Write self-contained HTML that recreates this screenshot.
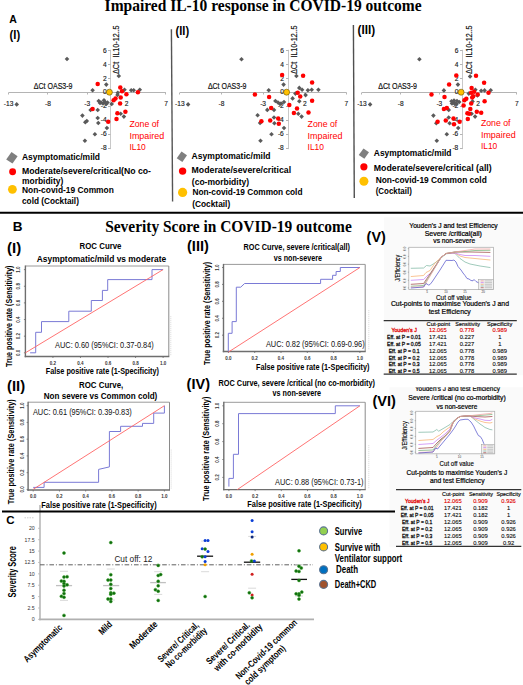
<!DOCTYPE html>
<html><head><meta charset="utf-8"><style>
html,body{margin:0;padding:0;background:#fff;overflow:hidden;}
svg{display:block;}
</style></head><body>
<svg width="523" height="685" viewBox="0 0 523 685">
<rect width="523" height="685" fill="#fff"/>
<text x="104.60" y="10.90" font-size="16" fill="#000" font-weight="bold" text-anchor="start" font-family='"Liberation Serif", serif' textLength="317.00" lengthAdjust="spacingAndGlyphs">Impaired IL-10 response in COVID-19 outcome</text>
<text x="105.20" y="232.20" font-size="16" fill="#000" font-weight="bold" text-anchor="start" font-family='"Liberation Serif", serif' textLength="246.60" lengthAdjust="spacingAndGlyphs">Severity Score in COVID-19 outcome</text>
<line x1="171.40" y1="29.20" x2="172.60" y2="201.40" stroke="#555555" stroke-width="1.4" />
<line x1="353.40" y1="25.00" x2="354.30" y2="198.00" stroke="#505050" stroke-width="1.4" />
<text x="13.00" y="19.00" font-size="10.5" fill="#000" font-weight="bold" text-anchor="middle" dominant-baseline="central" font-family='"Liberation Sans", sans-serif' >A</text>
<text x="9.60" y="35.30" font-size="12" fill="#000" font-weight="bold" text-anchor="start" dominant-baseline="central" font-family='"Liberation Sans", sans-serif' textLength="10.60" lengthAdjust="spacingAndGlyphs" >(I)</text>
<line x1="8.60" y1="92.50" x2="165.90" y2="92.50" stroke="#b4b4b4" stroke-width="1" />
<line x1="110.50" y1="49.80" x2="110.50" y2="149.10" stroke="#c8c8c8" stroke-width="1" />
<line x1="8.50" y1="92.50" x2="8.50" y2="94.50" stroke="#b4b4b4" stroke-width="1" />
<text x="8.59" y="103.00" font-size="6.6" fill="#202020" font-weight="normal" text-anchor="middle" dominant-baseline="central" font-family='"Liberation Sans", sans-serif' stroke="#202020" stroke-width="0.15">-13</text>
<line x1="47.50" y1="92.50" x2="47.50" y2="94.50" stroke="#b4b4b4" stroke-width="1" />
<text x="47.94" y="103.00" font-size="6.6" fill="#202020" font-weight="normal" text-anchor="middle" dominant-baseline="central" font-family='"Liberation Sans", sans-serif' stroke="#202020" stroke-width="0.15">-8</text>
<line x1="87.50" y1="92.50" x2="87.50" y2="94.50" stroke="#b4b4b4" stroke-width="1" />
<text x="87.29" y="103.00" font-size="6.6" fill="#202020" font-weight="normal" text-anchor="middle" dominant-baseline="central" font-family='"Liberation Sans", sans-serif' stroke="#202020" stroke-width="0.15">-3</text>
<line x1="126.50" y1="92.50" x2="126.50" y2="94.50" stroke="#b4b4b4" stroke-width="1" />
<text x="126.64" y="103.00" font-size="6.6" fill="#202020" font-weight="normal" text-anchor="middle" dominant-baseline="central" font-family='"Liberation Sans", sans-serif' stroke="#202020" stroke-width="0.15">2</text>
<line x1="165.50" y1="92.50" x2="165.50" y2="94.50" stroke="#b4b4b4" stroke-width="1" />
<text x="165.99" y="103.00" font-size="6.6" fill="#202020" font-weight="normal" text-anchor="middle" dominant-baseline="central" font-family='"Liberation Sans", sans-serif' stroke="#202020" stroke-width="0.15">7</text>
<line x1="108.00" y1="50.50" x2="110.50" y2="50.50" stroke="#b4b4b4" stroke-width="1" />
<text x="106.60" y="50.20" font-size="6.6" fill="#202020" font-weight="normal" text-anchor="end" dominant-baseline="central" font-family='"Liberation Sans", sans-serif' stroke="#202020" stroke-width="0.15">6</text>
<line x1="108.00" y1="64.50" x2="110.50" y2="64.50" stroke="#b4b4b4" stroke-width="1" />
<text x="106.60" y="64.10" font-size="6.6" fill="#202020" font-weight="normal" text-anchor="end" dominant-baseline="central" font-family='"Liberation Sans", sans-serif' stroke="#202020" stroke-width="0.15">4</text>
<line x1="108.00" y1="78.50" x2="110.50" y2="78.50" stroke="#b4b4b4" stroke-width="1" />
<text x="106.60" y="78.00" font-size="6.6" fill="#202020" font-weight="normal" text-anchor="end" dominant-baseline="central" font-family='"Liberation Sans", sans-serif' stroke="#202020" stroke-width="0.15">2</text>
<line x1="108.00" y1="92.50" x2="110.50" y2="92.50" stroke="#b4b4b4" stroke-width="1" />
<text x="106.60" y="91.90" font-size="6.6" fill="#202020" font-weight="normal" text-anchor="end" dominant-baseline="central" font-family='"Liberation Sans", sans-serif' stroke="#202020" stroke-width="0.15">0</text>
<line x1="108.00" y1="106.50" x2="110.50" y2="106.50" stroke="#b4b4b4" stroke-width="1" />
<text x="106.60" y="105.80" font-size="6.6" fill="#202020" font-weight="normal" text-anchor="end" dominant-baseline="central" font-family='"Liberation Sans", sans-serif' stroke="#202020" stroke-width="0.15">-2</text>
<line x1="108.00" y1="120.50" x2="110.50" y2="120.50" stroke="#b4b4b4" stroke-width="1" />
<text x="106.60" y="119.70" font-size="6.6" fill="#202020" font-weight="normal" text-anchor="end" dominant-baseline="central" font-family='"Liberation Sans", sans-serif' stroke="#202020" stroke-width="0.15">-4</text>
<line x1="108.00" y1="134.50" x2="110.50" y2="134.50" stroke="#b4b4b4" stroke-width="1" />
<text x="106.60" y="133.60" font-size="6.6" fill="#202020" font-weight="normal" text-anchor="end" dominant-baseline="central" font-family='"Liberation Sans", sans-serif' stroke="#202020" stroke-width="0.15">-6</text>
<line x1="108.00" y1="148.50" x2="110.50" y2="148.50" stroke="#b4b4b4" stroke-width="1" />
<text x="106.60" y="147.50" font-size="6.6" fill="#202020" font-weight="normal" text-anchor="end" dominant-baseline="central" font-family='"Liberation Sans", sans-serif' stroke="#202020" stroke-width="0.15">-8</text>
<text x="33.80" y="86.00" font-size="8.2" fill="#111" font-weight="normal" text-anchor="start" dominant-baseline="central" font-family='"Liberation Sans", sans-serif' textLength="38.70" lengthAdjust="spacingAndGlyphs" stroke="#111" stroke-width="0.18">ΔCt OAS3-9</text>
<text x="116.50" y="67.90" font-size="8.2" fill="#111" font-weight="normal" text-anchor="middle" dominant-baseline="central" font-family='"Liberation Sans", sans-serif' textLength="12.30" lengthAdjust="spacingAndGlyphs" transform="rotate(-90 116.50 67.90)" stroke="#111" stroke-width="0.15">ΔCt</text>
<text x="116.50" y="41.50" font-size="8.2" fill="#111" font-weight="normal" text-anchor="middle" dominant-baseline="central" font-family='"Liberation Sans", sans-serif' textLength="32.20" lengthAdjust="spacingAndGlyphs" transform="rotate(-90 116.50 41.50)" stroke="#111" stroke-width="0.15">IL10-12..5</text>
<path d="M67.00 56.70L69.30 59.00L67.00 61.30L64.70 59.00Z" fill="#5a5a5a"/>
<path d="M118.80 73.70L121.10 76.00L118.80 78.30L116.50 76.00Z" fill="#5a5a5a"/>
<path d="M106.30 82.30L108.60 84.60L106.30 86.90L104.00 84.60Z" fill="#5a5a5a"/>
<path d="M92.60 87.90L94.90 90.20L92.60 92.50L90.30 90.20Z" fill="#5a5a5a"/>
<path d="M117.80 90.40L120.10 92.70L117.80 95.00L115.50 92.70Z" fill="#5a5a5a"/>
<path d="M124.50 87.50L126.80 89.80L124.50 92.10L122.20 89.80Z" fill="#5a5a5a"/>
<path d="M131.20 87.90L133.50 90.20L131.20 92.50L128.90 90.20Z" fill="#5a5a5a"/>
<path d="M133.70 87.90L136.00 90.20L133.70 92.50L131.40 90.20Z" fill="#5a5a5a"/>
<path d="M139.80 87.50L142.10 89.80L139.80 92.10L137.50 89.80Z" fill="#5a5a5a"/>
<path d="M98.70 98.70L101.00 101.00L98.70 103.30L96.40 101.00Z" fill="#5a5a5a"/>
<path d="M101.00 100.20L103.30 102.50L101.00 104.80L98.70 102.50Z" fill="#5a5a5a"/>
<path d="M103.00 101.20L105.30 103.50L103.00 105.80L100.70 103.50Z" fill="#5a5a5a"/>
<path d="M105.00 99.70L107.30 102.00L105.00 104.30L102.70 102.00Z" fill="#5a5a5a"/>
<path d="M106.30 101.70L108.60 104.00L106.30 106.30L104.00 104.00Z" fill="#5a5a5a"/>
<path d="M100.00 100.70L102.30 103.00L100.00 105.30L97.70 103.00Z" fill="#5a5a5a"/>
<path d="M107.50 100.20L109.80 102.50L107.50 104.80L105.20 102.50Z" fill="#5a5a5a"/>
<path d="M104.00 98.00L106.30 100.30L104.00 102.60L101.70 100.30Z" fill="#5a5a5a"/>
<path d="M117.50 92.70L119.80 95.00L117.50 97.30L115.20 95.00Z" fill="#5a5a5a"/>
<path d="M111.70 101.70L114.00 104.00L111.70 106.30L109.40 104.00Z" fill="#5a5a5a"/>
<path d="M90.60 107.70L92.90 110.00L90.60 112.30L88.30 110.00Z" fill="#5a5a5a"/>
<path d="M97.70 107.70L100.00 110.00L97.70 112.30L95.40 110.00Z" fill="#5a5a5a"/>
<path d="M82.40 113.30L84.70 115.60L82.40 117.90L80.10 115.60Z" fill="#5a5a5a"/>
<path d="M85.30 120.00L87.60 122.30L85.30 124.60L83.00 122.30Z" fill="#5a5a5a"/>
<path d="M86.80 118.70L89.10 121.00L86.80 123.30L84.50 121.00Z" fill="#5a5a5a"/>
<path d="M97.70 115.70L100.00 118.00L97.70 120.30L95.40 118.00Z" fill="#5a5a5a"/>
<path d="M98.30 120.70L100.60 123.00L98.30 125.30L96.00 123.00Z" fill="#5a5a5a"/>
<path d="M120.70 111.40L123.00 113.70L120.70 116.00L118.40 113.70Z" fill="#5a5a5a"/>
<path d="M123.90 114.30L126.20 116.60L123.90 118.90L121.60 116.60Z" fill="#5a5a5a"/>
<path d="M106.90 125.70L109.20 128.00L106.90 130.30L104.60 128.00Z" fill="#5a5a5a"/>
<path d="M94.90 132.00L97.20 134.30L94.90 136.60L92.60 134.30Z" fill="#5a5a5a"/>
<path d="M84.90 138.50L87.20 140.80L84.90 143.10L82.60 140.80Z" fill="#5a5a5a"/>
<path d="M16.70 102.10L19.00 104.40L16.70 106.70L14.40 104.40Z" fill="#5a5a5a"/>
<circle cx="97.70" cy="84.00" r="2.25" fill="#ff0000" stroke="none" stroke-width="0.5"/>
<circle cx="120.30" cy="87.50" r="2.25" fill="#ff0000" stroke="none" stroke-width="0.5"/>
<circle cx="122.00" cy="91.30" r="2.25" fill="#ff0000" stroke="none" stroke-width="0.5"/>
<circle cx="126.40" cy="94.20" r="2.25" fill="#ff0000" stroke="none" stroke-width="0.5"/>
<circle cx="137.90" cy="92.30" r="2.25" fill="#ff0000" stroke="none" stroke-width="0.5"/>
<circle cx="115.50" cy="98.40" r="2.25" fill="#ff0000" stroke="none" stroke-width="0.5"/>
<circle cx="113.60" cy="100.30" r="2.25" fill="#ff0000" stroke="none" stroke-width="0.5"/>
<circle cx="120.70" cy="97.40" r="2.25" fill="#ff0000" stroke="none" stroke-width="0.5"/>
<circle cx="120.10" cy="103.60" r="2.25" fill="#ff0000" stroke="none" stroke-width="0.5"/>
<circle cx="92.60" cy="109.00" r="2.25" fill="#ff0000" stroke="none" stroke-width="0.5"/>
<circle cx="117.40" cy="113.30" r="2.25" fill="#ff0000" stroke="none" stroke-width="0.5"/>
<circle cx="125.40" cy="111.80" r="2.25" fill="#ff0000" stroke="none" stroke-width="0.5"/>
<circle cx="116.50" cy="119.00" r="2.25" fill="#ff0000" stroke="none" stroke-width="0.5"/>
<circle cx="108.20" cy="121.70" r="2.25" fill="#ff0000" stroke="none" stroke-width="0.5"/>
<circle cx="109.40" cy="92.20" r="3.0" fill="#ffc000" stroke="#6a5000" stroke-width="0.6"/>
<text x="129.40" y="124.00" font-size="9" fill="#ff0000" font-weight="normal" text-anchor="start" dominant-baseline="central" font-family='"Liberation Sans", sans-serif' textLength="29.60" lengthAdjust="spacingAndGlyphs" >Zone of</text>
<text x="129.40" y="135.70" font-size="9" fill="#ff0000" font-weight="normal" text-anchor="start" dominant-baseline="central" font-family='"Liberation Sans", sans-serif' textLength="34.80" lengthAdjust="spacingAndGlyphs" >Impaired</text>
<text x="129.40" y="147.40" font-size="9" fill="#ff0000" font-weight="normal" text-anchor="start" dominant-baseline="central" font-family='"Liberation Sans", sans-serif' textLength="16.40" lengthAdjust="spacingAndGlyphs" >IL10</text>
<text x="175.50" y="30.90" font-size="12" fill="#000" font-weight="bold" text-anchor="start" dominant-baseline="central" font-family='"Liberation Sans", sans-serif' textLength="13.60" lengthAdjust="spacingAndGlyphs" >(II)</text>
<line x1="180.00" y1="92.50" x2="346.60" y2="92.50" stroke="#b4b4b4" stroke-width="1" />
<line x1="288.50" y1="49.80" x2="288.50" y2="149.10" stroke="#c8c8c8" stroke-width="1" />
<line x1="179.50" y1="92.50" x2="179.50" y2="94.50" stroke="#b4b4b4" stroke-width="1" />
<text x="179.81" y="103.00" font-size="6.6" fill="#202020" font-weight="normal" text-anchor="middle" dominant-baseline="central" font-family='"Liberation Sans", sans-serif' stroke="#202020" stroke-width="0.15">-13</text>
<line x1="221.50" y1="92.50" x2="221.50" y2="94.50" stroke="#b4b4b4" stroke-width="1" />
<text x="221.46" y="103.00" font-size="6.6" fill="#202020" font-weight="normal" text-anchor="middle" dominant-baseline="central" font-family='"Liberation Sans", sans-serif' stroke="#202020" stroke-width="0.15">-8</text>
<line x1="263.50" y1="92.50" x2="263.50" y2="94.50" stroke="#b4b4b4" stroke-width="1" />
<text x="263.11" y="103.00" font-size="6.6" fill="#202020" font-weight="normal" text-anchor="middle" dominant-baseline="central" font-family='"Liberation Sans", sans-serif' stroke="#202020" stroke-width="0.15">-3</text>
<line x1="304.50" y1="92.50" x2="304.50" y2="94.50" stroke="#b4b4b4" stroke-width="1" />
<text x="304.76" y="103.00" font-size="6.6" fill="#202020" font-weight="normal" text-anchor="middle" dominant-baseline="central" font-family='"Liberation Sans", sans-serif' stroke="#202020" stroke-width="0.15">2</text>
<line x1="346.50" y1="92.50" x2="346.50" y2="94.50" stroke="#b4b4b4" stroke-width="1" />
<text x="346.41" y="103.00" font-size="6.6" fill="#202020" font-weight="normal" text-anchor="middle" dominant-baseline="central" font-family='"Liberation Sans", sans-serif' stroke="#202020" stroke-width="0.15">7</text>
<line x1="286.00" y1="50.50" x2="288.50" y2="50.50" stroke="#b4b4b4" stroke-width="1" />
<text x="283.80" y="50.20" font-size="6.6" fill="#202020" font-weight="normal" text-anchor="end" dominant-baseline="central" font-family='"Liberation Sans", sans-serif' stroke="#202020" stroke-width="0.15">6</text>
<line x1="286.00" y1="64.50" x2="288.50" y2="64.50" stroke="#b4b4b4" stroke-width="1" />
<text x="283.80" y="64.10" font-size="6.6" fill="#202020" font-weight="normal" text-anchor="end" dominant-baseline="central" font-family='"Liberation Sans", sans-serif' stroke="#202020" stroke-width="0.15">4</text>
<line x1="286.00" y1="78.50" x2="288.50" y2="78.50" stroke="#b4b4b4" stroke-width="1" />
<text x="283.80" y="78.00" font-size="6.6" fill="#202020" font-weight="normal" text-anchor="end" dominant-baseline="central" font-family='"Liberation Sans", sans-serif' stroke="#202020" stroke-width="0.15">2</text>
<line x1="286.00" y1="92.50" x2="288.50" y2="92.50" stroke="#b4b4b4" stroke-width="1" />
<text x="283.80" y="91.90" font-size="6.6" fill="#202020" font-weight="normal" text-anchor="end" dominant-baseline="central" font-family='"Liberation Sans", sans-serif' stroke="#202020" stroke-width="0.15">0</text>
<line x1="286.00" y1="106.50" x2="288.50" y2="106.50" stroke="#b4b4b4" stroke-width="1" />
<text x="283.80" y="105.80" font-size="6.6" fill="#202020" font-weight="normal" text-anchor="end" dominant-baseline="central" font-family='"Liberation Sans", sans-serif' stroke="#202020" stroke-width="0.15">-2</text>
<line x1="286.00" y1="120.50" x2="288.50" y2="120.50" stroke="#b4b4b4" stroke-width="1" />
<text x="283.80" y="119.70" font-size="6.6" fill="#202020" font-weight="normal" text-anchor="end" dominant-baseline="central" font-family='"Liberation Sans", sans-serif' stroke="#202020" stroke-width="0.15">-4</text>
<line x1="286.00" y1="134.50" x2="288.50" y2="134.50" stroke="#b4b4b4" stroke-width="1" />
<text x="283.80" y="133.60" font-size="6.6" fill="#202020" font-weight="normal" text-anchor="end" dominant-baseline="central" font-family='"Liberation Sans", sans-serif' stroke="#202020" stroke-width="0.15">-6</text>
<line x1="286.00" y1="148.50" x2="288.50" y2="148.50" stroke="#b4b4b4" stroke-width="1" />
<text x="283.80" y="147.50" font-size="6.6" fill="#202020" font-weight="normal" text-anchor="end" dominant-baseline="central" font-family='"Liberation Sans", sans-serif' stroke="#202020" stroke-width="0.15">-8</text>
<text x="207.90" y="86.00" font-size="8.2" fill="#111" font-weight="normal" text-anchor="start" dominant-baseline="central" font-family='"Liberation Sans", sans-serif' textLength="38.50" lengthAdjust="spacingAndGlyphs" stroke="#111" stroke-width="0.18">ΔCt OAS3-9</text>
<text x="294.70" y="67.90" font-size="8.2" fill="#111" font-weight="normal" text-anchor="middle" dominant-baseline="central" font-family='"Liberation Sans", sans-serif' textLength="12.30" lengthAdjust="spacingAndGlyphs" transform="rotate(-90 294.70 67.90)" stroke="#111" stroke-width="0.15">ΔCt</text>
<text x="294.70" y="41.50" font-size="8.2" fill="#111" font-weight="normal" text-anchor="middle" dominant-baseline="central" font-family='"Liberation Sans", sans-serif' textLength="32.20" lengthAdjust="spacingAndGlyphs" transform="rotate(-90 294.70 41.50)" stroke="#111" stroke-width="0.15">IL10-12..5</text>
<path d="M241.50 56.90L243.80 59.20L241.50 61.50L239.20 59.20Z" fill="#5a5a5a"/>
<path d="M296.40 73.70L298.70 76.00L296.40 78.30L294.10 76.00Z" fill="#5a5a5a"/>
<path d="M283.60 82.30L285.90 84.60L283.60 86.90L281.30 84.60Z" fill="#5a5a5a"/>
<path d="M268.70 87.90L271.00 90.20L268.70 92.50L266.40 90.20Z" fill="#5a5a5a"/>
<path d="M299.30 85.60L301.60 87.90L299.30 90.20L297.00 87.90Z" fill="#5a5a5a"/>
<path d="M302.10 87.50L304.40 89.80L302.10 92.10L299.80 89.80Z" fill="#5a5a5a"/>
<path d="M307.90 87.90L310.20 90.20L307.90 92.50L305.60 90.20Z" fill="#5a5a5a"/>
<path d="M311.70 87.50L314.00 89.80L311.70 92.10L309.40 89.80Z" fill="#5a5a5a"/>
<path d="M318.40 87.50L320.70 89.80L318.40 92.10L316.10 89.80Z" fill="#5a5a5a"/>
<path d="M295.40 91.30L297.70 93.60L295.40 95.90L293.10 93.60Z" fill="#5a5a5a"/>
<path d="M292.60 96.10L294.90 98.40L292.60 100.70L290.30 98.40Z" fill="#5a5a5a"/>
<path d="M305.60 92.80L307.90 95.10L305.60 97.40L303.30 95.10Z" fill="#5a5a5a"/>
<path d="M275.40 98.70L277.70 101.00L275.40 103.30L273.10 101.00Z" fill="#5a5a5a"/>
<path d="M278.00 100.20L280.30 102.50L278.00 104.80L275.70 102.50Z" fill="#5a5a5a"/>
<path d="M281.00 101.20L283.30 103.50L281.00 105.80L278.70 103.50Z" fill="#5a5a5a"/>
<path d="M284.00 99.70L286.30 102.00L284.00 104.30L281.70 102.00Z" fill="#5a5a5a"/>
<path d="M280.00 101.70L282.30 104.00L280.00 106.30L277.70 104.00Z" fill="#5a5a5a"/>
<path d="M274.00 107.60L276.30 109.90L274.00 112.20L271.70 109.90Z" fill="#5a5a5a"/>
<path d="M267.30 107.60L269.60 109.90L267.30 112.20L265.00 109.90Z" fill="#5a5a5a"/>
<path d="M257.60 112.90L259.90 115.20L257.60 117.50L255.30 115.20Z" fill="#5a5a5a"/>
<path d="M260.10 120.60L262.40 122.90L260.10 125.20L257.80 122.90Z" fill="#5a5a5a"/>
<path d="M274.00 115.20L276.30 117.50L274.00 119.80L271.70 117.50Z" fill="#5a5a5a"/>
<path d="M274.40 121.00L276.70 123.30L274.40 125.60L272.10 123.30Z" fill="#5a5a5a"/>
<path d="M299.30 99.00L301.60 101.30L299.30 103.60L297.00 101.30Z" fill="#5a5a5a"/>
<path d="M298.30 111.40L300.60 113.70L298.30 116.00L296.00 113.70Z" fill="#5a5a5a"/>
<path d="M301.60 114.30L303.90 116.60L301.60 118.90L299.30 116.60Z" fill="#5a5a5a"/>
<path d="M284.00 125.70L286.30 128.00L284.00 130.30L281.70 128.00Z" fill="#5a5a5a"/>
<path d="M271.50 132.00L273.80 134.30L271.50 136.60L269.20 134.30Z" fill="#5a5a5a"/>
<path d="M260.50 138.50L262.80 140.80L260.50 143.10L258.20 140.80Z" fill="#5a5a5a"/>
<path d="M188.10 102.10L190.40 104.40L188.10 106.70L185.80 104.40Z" fill="#5a5a5a"/>
<circle cx="282.10" cy="75.10" r="2.25" fill="#ff0000" stroke="none" stroke-width="0.5"/>
<circle cx="303.10" cy="75.80" r="2.25" fill="#ff0000" stroke="none" stroke-width="0.5"/>
<circle cx="312.10" cy="82.50" r="2.25" fill="#ff0000" stroke="none" stroke-width="0.5"/>
<circle cx="297.70" cy="92.70" r="2.25" fill="#ff0000" stroke="none" stroke-width="0.5"/>
<circle cx="300.20" cy="96.50" r="2.25" fill="#ff0000" stroke="none" stroke-width="0.5"/>
<circle cx="254.90" cy="94.60" r="2.25" fill="#ff0000" stroke="none" stroke-width="0.5"/>
<circle cx="269.10" cy="96.90" r="2.25" fill="#ff0000" stroke="none" stroke-width="0.5"/>
<circle cx="289.30" cy="105.10" r="2.25" fill="#ff0000" stroke="none" stroke-width="0.5"/>
<circle cx="312.10" cy="100.70" r="2.25" fill="#ff0000" stroke="none" stroke-width="0.5"/>
<circle cx="271.20" cy="108.00" r="2.25" fill="#ff0000" stroke="none" stroke-width="0.5"/>
<circle cx="297.00" cy="108.50" r="2.25" fill="#ff0000" stroke="none" stroke-width="0.5"/>
<circle cx="293.90" cy="113.10" r="2.25" fill="#ff0000" stroke="none" stroke-width="0.5"/>
<circle cx="308.50" cy="112.40" r="2.25" fill="#ff0000" stroke="none" stroke-width="0.5"/>
<circle cx="261.40" cy="121.30" r="2.25" fill="#ff0000" stroke="none" stroke-width="0.5"/>
<circle cx="270.20" cy="120.40" r="2.25" fill="#ff0000" stroke="none" stroke-width="0.5"/>
<circle cx="278.20" cy="118.50" r="2.25" fill="#ff0000" stroke="none" stroke-width="0.5"/>
<circle cx="278.80" cy="123.80" r="2.25" fill="#ff0000" stroke="none" stroke-width="0.5"/>
<circle cx="286.60" cy="92.20" r="3.0" fill="#ffc000" stroke="#6a5000" stroke-width="0.6"/>
<text x="307.60" y="124.20" font-size="9" fill="#ff0000" font-weight="normal" text-anchor="start" dominant-baseline="central" font-family='"Liberation Sans", sans-serif' textLength="29.60" lengthAdjust="spacingAndGlyphs" >Zone of</text>
<text x="307.60" y="135.70" font-size="9" fill="#ff0000" font-weight="normal" text-anchor="start" dominant-baseline="central" font-family='"Liberation Sans", sans-serif' textLength="34.80" lengthAdjust="spacingAndGlyphs" >Impaired</text>
<text x="307.60" y="146.60" font-size="9" fill="#ff0000" font-weight="normal" text-anchor="start" dominant-baseline="central" font-family='"Liberation Sans", sans-serif' textLength="16.40" lengthAdjust="spacingAndGlyphs" >IL10</text>
<text x="357.50" y="29.90" font-size="12" fill="#000" font-weight="bold" text-anchor="start" dominant-baseline="central" font-family='"Liberation Sans", sans-serif' textLength="17.60" lengthAdjust="spacingAndGlyphs" >(III)</text>
<line x1="361.90" y1="92.50" x2="516.80" y2="92.50" stroke="#b4b4b4" stroke-width="1" />
<line x1="462.50" y1="49.80" x2="462.50" y2="149.10" stroke="#c8c8c8" stroke-width="1" />
<line x1="361.50" y1="92.50" x2="361.50" y2="94.50" stroke="#b4b4b4" stroke-width="1" />
<text x="361.92" y="103.00" font-size="6.6" fill="#202020" font-weight="normal" text-anchor="middle" dominant-baseline="central" font-family='"Liberation Sans", sans-serif' stroke="#202020" stroke-width="0.15">-13</text>
<line x1="400.50" y1="92.50" x2="400.50" y2="94.50" stroke="#b4b4b4" stroke-width="1" />
<text x="400.64" y="103.00" font-size="6.6" fill="#202020" font-weight="normal" text-anchor="middle" dominant-baseline="central" font-family='"Liberation Sans", sans-serif' stroke="#202020" stroke-width="0.15">-8</text>
<line x1="439.50" y1="92.50" x2="439.50" y2="94.50" stroke="#b4b4b4" stroke-width="1" />
<text x="439.37" y="103.00" font-size="6.6" fill="#202020" font-weight="normal" text-anchor="middle" dominant-baseline="central" font-family='"Liberation Sans", sans-serif' stroke="#202020" stroke-width="0.15">-3</text>
<line x1="478.50" y1="92.50" x2="478.50" y2="94.50" stroke="#b4b4b4" stroke-width="1" />
<text x="478.09" y="103.00" font-size="6.6" fill="#202020" font-weight="normal" text-anchor="middle" dominant-baseline="central" font-family='"Liberation Sans", sans-serif' stroke="#202020" stroke-width="0.15">2</text>
<line x1="516.50" y1="92.50" x2="516.50" y2="94.50" stroke="#b4b4b4" stroke-width="1" />
<text x="516.82" y="103.00" font-size="6.6" fill="#202020" font-weight="normal" text-anchor="middle" dominant-baseline="central" font-family='"Liberation Sans", sans-serif' stroke="#202020" stroke-width="0.15">7</text>
<line x1="460.00" y1="50.50" x2="462.50" y2="50.50" stroke="#b4b4b4" stroke-width="1" />
<text x="458.30" y="50.20" font-size="6.6" fill="#202020" font-weight="normal" text-anchor="end" dominant-baseline="central" font-family='"Liberation Sans", sans-serif' stroke="#202020" stroke-width="0.15">6</text>
<line x1="460.00" y1="64.50" x2="462.50" y2="64.50" stroke="#b4b4b4" stroke-width="1" />
<text x="458.30" y="64.10" font-size="6.6" fill="#202020" font-weight="normal" text-anchor="end" dominant-baseline="central" font-family='"Liberation Sans", sans-serif' stroke="#202020" stroke-width="0.15">4</text>
<line x1="460.00" y1="78.50" x2="462.50" y2="78.50" stroke="#b4b4b4" stroke-width="1" />
<text x="458.30" y="78.00" font-size="6.6" fill="#202020" font-weight="normal" text-anchor="end" dominant-baseline="central" font-family='"Liberation Sans", sans-serif' stroke="#202020" stroke-width="0.15">2</text>
<line x1="460.00" y1="92.50" x2="462.50" y2="92.50" stroke="#b4b4b4" stroke-width="1" />
<text x="458.30" y="91.90" font-size="6.6" fill="#202020" font-weight="normal" text-anchor="end" dominant-baseline="central" font-family='"Liberation Sans", sans-serif' stroke="#202020" stroke-width="0.15">0</text>
<line x1="460.00" y1="106.50" x2="462.50" y2="106.50" stroke="#b4b4b4" stroke-width="1" />
<text x="458.30" y="105.80" font-size="6.6" fill="#202020" font-weight="normal" text-anchor="end" dominant-baseline="central" font-family='"Liberation Sans", sans-serif' stroke="#202020" stroke-width="0.15">-2</text>
<line x1="460.00" y1="120.50" x2="462.50" y2="120.50" stroke="#b4b4b4" stroke-width="1" />
<text x="458.30" y="119.70" font-size="6.6" fill="#202020" font-weight="normal" text-anchor="end" dominant-baseline="central" font-family='"Liberation Sans", sans-serif' stroke="#202020" stroke-width="0.15">-4</text>
<line x1="460.00" y1="134.50" x2="462.50" y2="134.50" stroke="#b4b4b4" stroke-width="1" />
<text x="458.30" y="133.60" font-size="6.6" fill="#202020" font-weight="normal" text-anchor="end" dominant-baseline="central" font-family='"Liberation Sans", sans-serif' stroke="#202020" stroke-width="0.15">-6</text>
<line x1="460.00" y1="148.50" x2="462.50" y2="148.50" stroke="#b4b4b4" stroke-width="1" />
<text x="458.30" y="147.50" font-size="6.6" fill="#202020" font-weight="normal" text-anchor="end" dominant-baseline="central" font-family='"Liberation Sans", sans-serif' stroke="#202020" stroke-width="0.15">-8</text>
<text x="378.20" y="86.00" font-size="8.2" fill="#111" font-weight="normal" text-anchor="start" dominant-baseline="central" font-family='"Liberation Sans", sans-serif' textLength="38.80" lengthAdjust="spacingAndGlyphs" stroke="#111" stroke-width="0.18">ΔCt OAS3-9</text>
<text x="469.40" y="67.90" font-size="8.2" fill="#111" font-weight="normal" text-anchor="middle" dominant-baseline="central" font-family='"Liberation Sans", sans-serif' textLength="12.30" lengthAdjust="spacingAndGlyphs" transform="rotate(-90 469.40 67.90)" stroke="#111" stroke-width="0.15">ΔCt</text>
<text x="469.40" y="41.50" font-size="8.2" fill="#111" font-weight="normal" text-anchor="middle" dominant-baseline="central" font-family='"Liberation Sans", sans-serif' textLength="32.20" lengthAdjust="spacingAndGlyphs" transform="rotate(-90 469.40 41.50)" stroke="#111" stroke-width="0.15">IL10-12..5</text>
<path d="M419.40 56.90L421.70 59.20L419.40 61.50L417.10 59.20Z" fill="#5a5a5a"/>
<path d="M470.10 74.10L472.40 76.40L470.10 78.70L467.80 76.40Z" fill="#5a5a5a"/>
<path d="M457.90 82.30L460.20 84.60L457.90 86.90L455.60 84.60Z" fill="#5a5a5a"/>
<path d="M443.90 88.10L446.20 90.40L443.90 92.70L441.60 90.40Z" fill="#5a5a5a"/>
<path d="M475.40 87.50L477.70 89.80L475.40 92.10L473.10 89.80Z" fill="#5a5a5a"/>
<path d="M481.20 88.40L483.50 90.70L481.20 93.00L478.90 90.70Z" fill="#5a5a5a"/>
<path d="M484.60 88.10L486.90 90.40L484.60 92.70L482.30 90.40Z" fill="#5a5a5a"/>
<path d="M490.70 87.90L493.00 90.20L490.70 92.50L488.40 90.20Z" fill="#5a5a5a"/>
<path d="M468.80 91.30L471.10 93.60L468.80 95.90L466.50 93.60Z" fill="#5a5a5a"/>
<path d="M477.40 93.20L479.70 95.50L477.40 97.80L475.10 95.50Z" fill="#5a5a5a"/>
<path d="M451.50 99.00L453.80 101.30L451.50 103.60L449.20 101.30Z" fill="#5a5a5a"/>
<path d="M454.00 100.20L456.30 102.50L454.00 104.80L451.70 102.50Z" fill="#5a5a5a"/>
<path d="M456.50 101.70L458.80 104.00L456.50 106.30L454.20 104.00Z" fill="#5a5a5a"/>
<path d="M459.20 99.70L461.50 102.00L459.20 104.30L456.90 102.00Z" fill="#5a5a5a"/>
<path d="M455.00 101.80L457.30 104.10L455.00 106.40L452.70 104.10Z" fill="#5a5a5a"/>
<path d="M452.00 101.20L454.30 103.50L452.00 105.80L449.70 103.50Z" fill="#5a5a5a"/>
<path d="M457.00 98.70L459.30 101.00L457.00 103.30L454.70 101.00Z" fill="#5a5a5a"/>
<path d="M454.00 98.20L456.30 100.50L454.00 102.80L451.70 100.50Z" fill="#5a5a5a"/>
<path d="M472.50 99.10L474.80 101.40L472.50 103.70L470.20 101.40Z" fill="#5a5a5a"/>
<path d="M448.70 107.60L451.00 109.90L448.70 112.20L446.40 109.90Z" fill="#5a5a5a"/>
<path d="M433.40 113.30L435.70 115.60L433.40 117.90L431.10 115.60Z" fill="#5a5a5a"/>
<path d="M436.30 121.00L438.60 123.30L436.30 125.60L434.00 123.30Z" fill="#5a5a5a"/>
<path d="M448.70 115.20L451.00 117.50L448.70 119.80L446.40 117.50Z" fill="#5a5a5a"/>
<path d="M449.60 121.00L451.90 123.30L449.60 125.60L447.30 123.30Z" fill="#5a5a5a"/>
<path d="M471.60 111.40L473.90 113.70L471.60 116.00L469.30 113.70Z" fill="#5a5a5a"/>
<path d="M475.10 114.30L477.40 116.60L475.10 118.90L472.80 116.60Z" fill="#5a5a5a"/>
<path d="M458.20 125.70L460.50 128.00L458.20 130.30L455.90 128.00Z" fill="#5a5a5a"/>
<path d="M446.80 132.00L449.10 134.30L446.80 136.60L444.50 134.30Z" fill="#5a5a5a"/>
<path d="M436.80 138.50L439.10 140.80L436.80 143.10L434.50 140.80Z" fill="#5a5a5a"/>
<path d="M370.10 102.10L372.40 104.40L370.10 106.70L367.80 104.40Z" fill="#5a5a5a"/>
<circle cx="456.30" cy="75.40" r="2.25" fill="#ff0000" stroke="none" stroke-width="0.5"/>
<circle cx="476.00" cy="75.80" r="2.25" fill="#ff0000" stroke="none" stroke-width="0.5"/>
<circle cx="449.10" cy="84.60" r="2.25" fill="#ff0000" stroke="none" stroke-width="0.5"/>
<circle cx="484.10" cy="82.70" r="2.25" fill="#ff0000" stroke="none" stroke-width="0.5"/>
<circle cx="471.60" cy="87.90" r="2.25" fill="#ff0000" stroke="none" stroke-width="0.5"/>
<circle cx="471.20" cy="92.70" r="2.25" fill="#ff0000" stroke="none" stroke-width="0.5"/>
<circle cx="474.10" cy="91.70" r="2.25" fill="#ff0000" stroke="none" stroke-width="0.5"/>
<circle cx="473.20" cy="96.20" r="2.25" fill="#ff0000" stroke="none" stroke-width="0.5"/>
<circle cx="477.70" cy="94.60" r="2.25" fill="#ff0000" stroke="none" stroke-width="0.5"/>
<circle cx="488.50" cy="92.70" r="2.25" fill="#ff0000" stroke="none" stroke-width="0.5"/>
<circle cx="431.50" cy="94.60" r="2.25" fill="#ff0000" stroke="none" stroke-width="0.5"/>
<circle cx="444.50" cy="96.90" r="2.25" fill="#ff0000" stroke="none" stroke-width="0.5"/>
<circle cx="466.30" cy="98.80" r="2.25" fill="#ff0000" stroke="none" stroke-width="0.5"/>
<circle cx="464.40" cy="100.30" r="2.25" fill="#ff0000" stroke="none" stroke-width="0.5"/>
<circle cx="472.20" cy="97.40" r="2.25" fill="#ff0000" stroke="none" stroke-width="0.5"/>
<circle cx="471.20" cy="103.60" r="2.25" fill="#ff0000" stroke="none" stroke-width="0.5"/>
<circle cx="484.60" cy="101.30" r="2.25" fill="#ff0000" stroke="none" stroke-width="0.5"/>
<circle cx="463.60" cy="105.50" r="2.25" fill="#ff0000" stroke="none" stroke-width="0.5"/>
<circle cx="443.90" cy="108.90" r="2.25" fill="#ff0000" stroke="none" stroke-width="0.5"/>
<circle cx="446.80" cy="108.00" r="2.25" fill="#ff0000" stroke="none" stroke-width="0.5"/>
<circle cx="470.30" cy="108.90" r="2.25" fill="#ff0000" stroke="none" stroke-width="0.5"/>
<circle cx="476.80" cy="111.80" r="2.25" fill="#ff0000" stroke="none" stroke-width="0.5"/>
<circle cx="481.20" cy="112.70" r="2.25" fill="#ff0000" stroke="none" stroke-width="0.5"/>
<circle cx="467.40" cy="113.30" r="2.25" fill="#ff0000" stroke="none" stroke-width="0.5"/>
<circle cx="469.30" cy="113.70" r="2.25" fill="#ff0000" stroke="none" stroke-width="0.5"/>
<circle cx="453.50" cy="118.50" r="2.25" fill="#ff0000" stroke="none" stroke-width="0.5"/>
<circle cx="467.80" cy="119.00" r="2.25" fill="#ff0000" stroke="none" stroke-width="0.5"/>
<circle cx="437.60" cy="121.70" r="2.25" fill="#ff0000" stroke="none" stroke-width="0.5"/>
<circle cx="445.80" cy="120.40" r="2.25" fill="#ff0000" stroke="none" stroke-width="0.5"/>
<circle cx="454.00" cy="124.20" r="2.25" fill="#ff0000" stroke="none" stroke-width="0.5"/>
<circle cx="459.60" cy="121.70" r="2.25" fill="#ff0000" stroke="none" stroke-width="0.5"/>
<circle cx="461.10" cy="92.20" r="3.0" fill="#ffc000" stroke="#6a5000" stroke-width="0.6"/>
<text x="480.90" y="123.20" font-size="9" fill="#ff0000" font-weight="normal" text-anchor="start" dominant-baseline="central" font-family='"Liberation Sans", sans-serif' textLength="29.60" lengthAdjust="spacingAndGlyphs" >Zone of</text>
<text x="480.90" y="134.70" font-size="9" fill="#ff0000" font-weight="normal" text-anchor="start" dominant-baseline="central" font-family='"Liberation Sans", sans-serif' textLength="34.80" lengthAdjust="spacingAndGlyphs" >Impaired</text>
<text x="480.90" y="145.80" font-size="9" fill="#ff0000" font-weight="normal" text-anchor="start" dominant-baseline="central" font-family='"Liberation Sans", sans-serif' textLength="16.40" lengthAdjust="spacingAndGlyphs" >IL10</text>
<path d="M11.50 152.00 L17.60 156.20 L12.50 163.60 L6.20 159.40Z" fill="#7f7f7f"/>
<text x="22.00" y="156.30" font-size="9.4" fill="#000" font-weight="bold" text-anchor="start" dominant-baseline="central" font-family='"Liberation Sans", sans-serif' textLength="78.00" lengthAdjust="spacingAndGlyphs" >Asymptomatic/mild</text>
<circle cx="12.60" cy="171.80" r="3.45" fill="#ff0000" stroke="none" stroke-width="0.5"/>
<text x="22.00" y="170.00" font-size="9.4" fill="#000" font-weight="bold" text-anchor="start" dominant-baseline="central" font-family='"Liberation Sans", sans-serif' textLength="129.00" lengthAdjust="spacingAndGlyphs" >Moderate/severe/critical(No co-</text>
<text x="22.00" y="180.60" font-size="9.4" fill="#000" font-weight="bold" text-anchor="start" dominant-baseline="central" font-family='"Liberation Sans", sans-serif' textLength="41.30" lengthAdjust="spacingAndGlyphs" >morbidity)</text>
<circle cx="12.40" cy="189.30" r="4.4" fill="#ffc000" stroke="none" stroke-width="0.5"/>
<text x="22.00" y="189.70" font-size="9.4" fill="#000" font-weight="bold" text-anchor="start" dominant-baseline="central" font-family='"Liberation Sans", sans-serif' textLength="91.80" lengthAdjust="spacingAndGlyphs" >Non-covid-19 Common</text>
<text x="22.00" y="200.50" font-size="9.4" fill="#000" font-weight="bold" text-anchor="start" dominant-baseline="central" font-family='"Liberation Sans", sans-serif' textLength="56.90" lengthAdjust="spacingAndGlyphs" >cold (Cocktail)</text>
<path d="M181.50 151.58 L186.99 155.36 L182.40 162.02 L176.72 158.24Z" fill="#7f7f7f"/>
<text x="191.60" y="155.50" font-size="9.4" fill="#000" font-weight="bold" text-anchor="start" dominant-baseline="central" font-family='"Liberation Sans", sans-serif' textLength="78.90" lengthAdjust="spacingAndGlyphs" >Asymptomatic/mild</text>
<circle cx="182.60" cy="171.10" r="3.7" fill="#ff0000" stroke="none" stroke-width="0.5"/>
<text x="191.60" y="169.60" font-size="9.4" fill="#000" font-weight="bold" text-anchor="start" dominant-baseline="central" font-family='"Liberation Sans", sans-serif' textLength="99.50" lengthAdjust="spacingAndGlyphs" >Moderate/severe/critical</text>
<text x="191.80" y="181.30" font-size="9.4" fill="#000" font-weight="bold" text-anchor="start" dominant-baseline="central" font-family='"Liberation Sans", sans-serif' textLength="57.30" lengthAdjust="spacingAndGlyphs" >(co-morbidity)</text>
<circle cx="182.60" cy="192.40" r="4.6" fill="#ffc000" stroke="none" stroke-width="0.5"/>
<text x="192.40" y="191.70" font-size="9.4" fill="#000" font-weight="bold" text-anchor="start" dominant-baseline="central" font-family='"Liberation Sans", sans-serif' textLength="110.10" lengthAdjust="spacingAndGlyphs" >Non-covid-19 Common cold</text>
<text x="192.20" y="203.00" font-size="9.4" fill="#000" font-weight="bold" text-anchor="start" dominant-baseline="central" font-family='"Liberation Sans", sans-serif' textLength="38.00" lengthAdjust="spacingAndGlyphs" >(Cocktail)</text>
<path d="M363.50 148.38 L368.98 152.16 L364.39 158.82 L358.72 155.04Z" fill="#7f7f7f"/>
<text x="373.80" y="152.40" font-size="9.4" fill="#000" font-weight="bold" text-anchor="start" dominant-baseline="central" font-family='"Liberation Sans", sans-serif' textLength="77.70" lengthAdjust="spacingAndGlyphs" >Asymptomatic/mild</text>
<circle cx="363.90" cy="166.80" r="3.6" fill="#ff0000" stroke="none" stroke-width="0.5"/>
<text x="373.80" y="167.60" font-size="9.4" fill="#000" font-weight="bold" text-anchor="start" dominant-baseline="central" font-family='"Liberation Sans", sans-serif' textLength="117.90" lengthAdjust="spacingAndGlyphs" >Moderate/severe/critical (all)</text>
<circle cx="363.90" cy="181.20" r="4.5" fill="#ffc000" stroke="none" stroke-width="0.5"/>
<text x="375.70" y="179.30" font-size="9.4" fill="#000" font-weight="bold" text-anchor="start" dominant-baseline="central" font-family='"Liberation Sans", sans-serif' textLength="111.10" lengthAdjust="spacingAndGlyphs" >Non-covid-19 Common cold</text>
<text x="375.70" y="190.30" font-size="9.4" fill="#000" font-weight="bold" text-anchor="start" dominant-baseline="central" font-family='"Liberation Sans", sans-serif' textLength="36.10" lengthAdjust="spacingAndGlyphs" >(Cocktail)</text>
<text x="17.60" y="226.30" font-size="13.5" fill="#000" font-weight="bold" text-anchor="middle" dominant-baseline="central" font-family='"Liberation Sans", sans-serif' >B</text>
<line x1="25.40" y1="266.00" x2="168.80" y2="266.00" stroke="#9a9a9a" stroke-width="1" />
<line x1="168.80" y1="266.00" x2="168.80" y2="356.50" stroke="#8a8a8a" stroke-width="1" />
<line x1="25.40" y1="265.50" x2="25.40" y2="357.20" stroke="#6e6e6e" stroke-width="1.4" />
<line x1="24.70" y1="356.50" x2="169.30" y2="356.50" stroke="#6e6e6e" stroke-width="1.4" />
<line x1="23.90" y1="352.80" x2="25.40" y2="352.80" stroke="#6a6a6a" stroke-width="0.8" />
<text x="18.70" y="352.80" font-size="4.5" fill="#333" font-weight="bold" text-anchor="middle" dominant-baseline="central" font-family='"Liberation Sans", sans-serif' transform="rotate(-90 18.70 352.80)" >0.0</text>
<line x1="23.90" y1="336.16" x2="25.40" y2="336.16" stroke="#6a6a6a" stroke-width="0.8" />
<text x="18.70" y="336.16" font-size="4.5" fill="#333" font-weight="bold" text-anchor="middle" dominant-baseline="central" font-family='"Liberation Sans", sans-serif' transform="rotate(-90 18.70 336.16)" >0.2</text>
<line x1="23.90" y1="319.52" x2="25.40" y2="319.52" stroke="#6a6a6a" stroke-width="0.8" />
<text x="18.70" y="319.52" font-size="4.5" fill="#333" font-weight="bold" text-anchor="middle" dominant-baseline="central" font-family='"Liberation Sans", sans-serif' transform="rotate(-90 18.70 319.52)" >0.4</text>
<line x1="23.90" y1="302.88" x2="25.40" y2="302.88" stroke="#6a6a6a" stroke-width="0.8" />
<text x="18.70" y="302.88" font-size="4.5" fill="#333" font-weight="bold" text-anchor="middle" dominant-baseline="central" font-family='"Liberation Sans", sans-serif' transform="rotate(-90 18.70 302.88)" >0.6</text>
<line x1="23.90" y1="286.24" x2="25.40" y2="286.24" stroke="#6a6a6a" stroke-width="0.8" />
<text x="18.70" y="286.24" font-size="4.5" fill="#333" font-weight="bold" text-anchor="middle" dominant-baseline="central" font-family='"Liberation Sans", sans-serif' transform="rotate(-90 18.70 286.24)" >0.8</text>
<line x1="23.90" y1="269.60" x2="25.40" y2="269.60" stroke="#6a6a6a" stroke-width="0.8" />
<text x="18.70" y="269.60" font-size="4.5" fill="#333" font-weight="bold" text-anchor="middle" dominant-baseline="central" font-family='"Liberation Sans", sans-serif' transform="rotate(-90 18.70 269.60)" >1.0</text>
<line x1="52.94" y1="356.50" x2="52.94" y2="358.00" stroke="#6a6a6a" stroke-width="0.8" />
<text x="52.94" y="363.10" font-size="4.5" fill="#333" font-weight="bold" text-anchor="middle" dominant-baseline="central" font-family='"Liberation Sans", sans-serif' >0.2</text>
<line x1="80.48" y1="356.50" x2="80.48" y2="358.00" stroke="#6a6a6a" stroke-width="0.8" />
<text x="80.48" y="363.10" font-size="4.5" fill="#333" font-weight="bold" text-anchor="middle" dominant-baseline="central" font-family='"Liberation Sans", sans-serif' >0.4</text>
<line x1="108.02" y1="356.50" x2="108.02" y2="358.00" stroke="#6a6a6a" stroke-width="0.8" />
<text x="108.02" y="363.10" font-size="4.5" fill="#333" font-weight="bold" text-anchor="middle" dominant-baseline="central" font-family='"Liberation Sans", sans-serif' >0.6</text>
<line x1="135.56" y1="356.50" x2="135.56" y2="358.00" stroke="#6a6a6a" stroke-width="0.8" />
<text x="135.56" y="363.10" font-size="4.5" fill="#333" font-weight="bold" text-anchor="middle" dominant-baseline="central" font-family='"Liberation Sans", sans-serif' >0.8</text>
<line x1="163.10" y1="356.50" x2="163.10" y2="358.00" stroke="#6a6a6a" stroke-width="0.8" />
<text x="163.10" y="363.10" font-size="4.5" fill="#333" font-weight="bold" text-anchor="middle" dominant-baseline="central" font-family='"Liberation Sans", sans-serif' >1.0</text>
<text x="79.60" y="245.90" font-size="9.9" fill="#000" font-weight="bold" text-anchor="start" dominant-baseline="central" font-family='"Liberation Sans", sans-serif' textLength="41.90" lengthAdjust="spacingAndGlyphs" >ROC Curve</text>
<text x="36.80" y="258.20" font-size="9.9" fill="#000" font-weight="bold" text-anchor="start" dominant-baseline="central" font-family='"Liberation Sans", sans-serif' textLength="129.40" lengthAdjust="spacingAndGlyphs" >Asymptomatic/mild vs moderate</text>
<text x="8.60" y="316.25" font-size="9.9" fill="#000" font-weight="bold" text-anchor="middle" dominant-baseline="central" font-family='"Liberation Sans", sans-serif' textLength="101.50" lengthAdjust="spacingAndGlyphs" transform="rotate(-90 8.60 316.25)" >True positive rate (Sensitivity)</text>
<text x="45.80" y="370.10" font-size="9.9" fill="#000" font-weight="bold" text-anchor="start" dominant-baseline="central" font-family='"Liberation Sans", sans-serif' textLength="113.20" lengthAdjust="spacingAndGlyphs" >False positive rate (1-Specificity)</text>
<text x="55.00" y="344.60" font-size="9.9" fill="#111" font-weight="normal" text-anchor="start" dominant-baseline="central" font-family='"Liberation Sans", sans-serif' textLength="98.80" lengthAdjust="spacingAndGlyphs" >AUC: 0.60 (95%CI: 0.37-0.84)</text>
<path d="M30.10 352.80 L35.70 352.80 L35.70 332.30 L41.50 332.30 L41.50 321.60 L68.80 321.60 L68.80 311.20 L91.30 311.20 L91.30 300.50 L102.40 300.50 L102.40 290.40 L107.70 290.40 L107.70 279.60 L152.00 279.60 L152.00 269.60 L163.10 269.60" fill="none" stroke="#7a7ad6" stroke-width="1.0" />
<path d="M25.40 352.80 L163.10 269.60" fill="none" stroke="#ff6464" stroke-width="0.9" />
<text x="7.00" y="248.20" font-size="14.5" fill="#000" font-weight="bold" text-anchor="start" dominant-baseline="central" font-family='"Liberation Sans", sans-serif' textLength="14.20" lengthAdjust="spacingAndGlyphs" >(I)</text>
<line x1="28.10" y1="402.20" x2="169.50" y2="402.20" stroke="#9a9a9a" stroke-width="1" />
<line x1="169.50" y1="402.20" x2="169.50" y2="490.00" stroke="#8a8a8a" stroke-width="1" />
<line x1="28.10" y1="401.70" x2="28.10" y2="490.70" stroke="#6e6e6e" stroke-width="1.4" />
<line x1="27.40" y1="490.00" x2="170.00" y2="490.00" stroke="#6e6e6e" stroke-width="1.4" />
<line x1="26.60" y1="489.40" x2="28.10" y2="489.40" stroke="#6a6a6a" stroke-width="0.8" />
<text x="22.90" y="489.40" font-size="4.5" fill="#333" font-weight="bold" text-anchor="middle" dominant-baseline="central" font-family='"Liberation Sans", sans-serif' transform="rotate(-90 22.90 489.40)" >0.0</text>
<line x1="26.60" y1="472.66" x2="28.10" y2="472.66" stroke="#6a6a6a" stroke-width="0.8" />
<text x="22.90" y="472.66" font-size="4.5" fill="#333" font-weight="bold" text-anchor="middle" dominant-baseline="central" font-family='"Liberation Sans", sans-serif' transform="rotate(-90 22.90 472.66)" >0.2</text>
<line x1="26.60" y1="455.92" x2="28.10" y2="455.92" stroke="#6a6a6a" stroke-width="0.8" />
<text x="22.90" y="455.92" font-size="4.5" fill="#333" font-weight="bold" text-anchor="middle" dominant-baseline="central" font-family='"Liberation Sans", sans-serif' transform="rotate(-90 22.90 455.92)" >0.4</text>
<line x1="26.60" y1="439.18" x2="28.10" y2="439.18" stroke="#6a6a6a" stroke-width="0.8" />
<text x="22.90" y="439.18" font-size="4.5" fill="#333" font-weight="bold" text-anchor="middle" dominant-baseline="central" font-family='"Liberation Sans", sans-serif' transform="rotate(-90 22.90 439.18)" >0.6</text>
<line x1="26.60" y1="422.44" x2="28.10" y2="422.44" stroke="#6a6a6a" stroke-width="0.8" />
<text x="22.90" y="422.44" font-size="4.5" fill="#333" font-weight="bold" text-anchor="middle" dominant-baseline="central" font-family='"Liberation Sans", sans-serif' transform="rotate(-90 22.90 422.44)" >0.8</text>
<line x1="26.60" y1="405.70" x2="28.10" y2="405.70" stroke="#6a6a6a" stroke-width="0.8" />
<text x="22.90" y="405.70" font-size="4.5" fill="#333" font-weight="bold" text-anchor="middle" dominant-baseline="central" font-family='"Liberation Sans", sans-serif' transform="rotate(-90 22.90 405.70)" >1.0</text>
<line x1="33.20" y1="490.00" x2="33.20" y2="491.50" stroke="#6a6a6a" stroke-width="0.8" />
<text x="33.20" y="496.50" font-size="4.5" fill="#333" font-weight="bold" text-anchor="middle" dominant-baseline="central" font-family='"Liberation Sans", sans-serif' >0.0</text>
<line x1="59.44" y1="490.00" x2="59.44" y2="491.50" stroke="#6a6a6a" stroke-width="0.8" />
<text x="59.44" y="496.50" font-size="4.5" fill="#333" font-weight="bold" text-anchor="middle" dominant-baseline="central" font-family='"Liberation Sans", sans-serif' >0.2</text>
<line x1="85.68" y1="490.00" x2="85.68" y2="491.50" stroke="#6a6a6a" stroke-width="0.8" />
<text x="85.68" y="496.50" font-size="4.5" fill="#333" font-weight="bold" text-anchor="middle" dominant-baseline="central" font-family='"Liberation Sans", sans-serif' >0.4</text>
<line x1="111.92" y1="490.00" x2="111.92" y2="491.50" stroke="#6a6a6a" stroke-width="0.8" />
<text x="111.92" y="496.50" font-size="4.5" fill="#333" font-weight="bold" text-anchor="middle" dominant-baseline="central" font-family='"Liberation Sans", sans-serif' >0.6</text>
<line x1="138.16" y1="490.00" x2="138.16" y2="491.50" stroke="#6a6a6a" stroke-width="0.8" />
<text x="138.16" y="496.50" font-size="4.5" fill="#333" font-weight="bold" text-anchor="middle" dominant-baseline="central" font-family='"Liberation Sans", sans-serif' >0.8</text>
<line x1="164.40" y1="490.00" x2="164.40" y2="491.50" stroke="#6a6a6a" stroke-width="0.8" />
<text x="164.40" y="496.50" font-size="4.5" fill="#333" font-weight="bold" text-anchor="middle" dominant-baseline="central" font-family='"Liberation Sans", sans-serif' >1.0</text>
<text x="79.00" y="384.70" font-size="9.9" fill="#000" font-weight="bold" text-anchor="start" dominant-baseline="central" font-family='"Liberation Sans", sans-serif' textLength="44.20" lengthAdjust="spacingAndGlyphs" >ROC Curve,</text>
<text x="43.70" y="395.00" font-size="9.9" fill="#000" font-weight="bold" text-anchor="start" dominant-baseline="central" font-family='"Liberation Sans", sans-serif' textLength="113.60" lengthAdjust="spacingAndGlyphs" >Non severe vs Common cold)</text>
<text x="10.30" y="451.70" font-size="9.9" fill="#000" font-weight="bold" text-anchor="middle" dominant-baseline="central" font-family='"Liberation Sans", sans-serif' textLength="105.00" lengthAdjust="spacingAndGlyphs" transform="rotate(-90 10.30 451.70)" >True positive rate (Sensitivity)</text>
<text x="41.30" y="504.40" font-size="9.9" fill="#000" font-weight="bold" text-anchor="start" dominant-baseline="central" font-family='"Liberation Sans", sans-serif' textLength="115.30" lengthAdjust="spacingAndGlyphs" >False positive rate (1-Specificity)</text>
<text x="32.90" y="411.40" font-size="9.9" fill="#111" font-weight="normal" text-anchor="start" dominant-baseline="central" font-family='"Liberation Sans", sans-serif' textLength="98.90" lengthAdjust="spacingAndGlyphs" >AUC: 0.61 (95%CI: 0.39-0.83)</text>
<path d="M33.20 487.40 L44.10 487.40 L44.10 482.30 L98.60 482.30 L98.60 469.40 L109.40 466.90 L109.40 431.50 L120.60 431.50 L120.60 426.30 L142.50 426.30 L142.50 423.40 L153.70 423.40 L153.70 413.10 L164.40 413.10 L164.40 405.70" fill="none" stroke="#7a7ad6" stroke-width="1.0" />
<path d="M33.20 489.30 L164.40 405.70" fill="none" stroke="#ff6464" stroke-width="0.9" />
<text x="7.00" y="386.25" font-size="14.5" fill="#000" font-weight="bold" text-anchor="start" dominant-baseline="central" font-family='"Liberation Sans", sans-serif' textLength="18.10" lengthAdjust="spacingAndGlyphs" >(II)</text>
<line x1="223.50" y1="264.40" x2="365.20" y2="264.40" stroke="#9a9a9a" stroke-width="1" />
<line x1="365.20" y1="264.40" x2="365.20" y2="351.50" stroke="#8a8a8a" stroke-width="1" />
<line x1="223.50" y1="263.90" x2="223.50" y2="352.20" stroke="#6e6e6e" stroke-width="1.4" />
<line x1="222.80" y1="351.50" x2="365.70" y2="351.50" stroke="#6e6e6e" stroke-width="1.4" />
<line x1="222.00" y1="335.18" x2="223.50" y2="335.18" stroke="#6a6a6a" stroke-width="0.8" />
<text x="217.80" y="335.18" font-size="4.5" fill="#333" font-weight="bold" text-anchor="middle" dominant-baseline="central" font-family='"Liberation Sans", sans-serif' transform="rotate(-90 217.80 335.18)" >0.2</text>
<line x1="222.00" y1="318.26" x2="223.50" y2="318.26" stroke="#6a6a6a" stroke-width="0.8" />
<text x="217.80" y="318.26" font-size="4.5" fill="#333" font-weight="bold" text-anchor="middle" dominant-baseline="central" font-family='"Liberation Sans", sans-serif' transform="rotate(-90 217.80 318.26)" >0.4</text>
<line x1="222.00" y1="301.34" x2="223.50" y2="301.34" stroke="#6a6a6a" stroke-width="0.8" />
<text x="217.80" y="301.34" font-size="4.5" fill="#333" font-weight="bold" text-anchor="middle" dominant-baseline="central" font-family='"Liberation Sans", sans-serif' transform="rotate(-90 217.80 301.34)" >0.6</text>
<line x1="222.00" y1="284.42" x2="223.50" y2="284.42" stroke="#6a6a6a" stroke-width="0.8" />
<text x="217.80" y="284.42" font-size="4.5" fill="#333" font-weight="bold" text-anchor="middle" dominant-baseline="central" font-family='"Liberation Sans", sans-serif' transform="rotate(-90 217.80 284.42)" >0.8</text>
<line x1="222.00" y1="267.50" x2="223.50" y2="267.50" stroke="#6a6a6a" stroke-width="0.8" />
<text x="217.80" y="267.50" font-size="4.5" fill="#333" font-weight="bold" text-anchor="middle" dominant-baseline="central" font-family='"Liberation Sans", sans-serif' transform="rotate(-90 217.80 267.50)" >1.0</text>
<line x1="228.40" y1="351.50" x2="228.40" y2="353.00" stroke="#6a6a6a" stroke-width="0.8" />
<text x="228.40" y="358.80" font-size="4.5" fill="#333" font-weight="bold" text-anchor="middle" dominant-baseline="central" font-family='"Liberation Sans", sans-serif' >0.0</text>
<line x1="254.70" y1="351.50" x2="254.70" y2="353.00" stroke="#6a6a6a" stroke-width="0.8" />
<text x="254.70" y="358.80" font-size="4.5" fill="#333" font-weight="bold" text-anchor="middle" dominant-baseline="central" font-family='"Liberation Sans", sans-serif' >0.2</text>
<line x1="281.00" y1="351.50" x2="281.00" y2="353.00" stroke="#6a6a6a" stroke-width="0.8" />
<text x="281.00" y="358.80" font-size="4.5" fill="#333" font-weight="bold" text-anchor="middle" dominant-baseline="central" font-family='"Liberation Sans", sans-serif' >0.4</text>
<line x1="307.30" y1="351.50" x2="307.30" y2="353.00" stroke="#6a6a6a" stroke-width="0.8" />
<text x="307.30" y="358.80" font-size="4.5" fill="#333" font-weight="bold" text-anchor="middle" dominant-baseline="central" font-family='"Liberation Sans", sans-serif' >0.6</text>
<line x1="333.60" y1="351.50" x2="333.60" y2="353.00" stroke="#6a6a6a" stroke-width="0.8" />
<text x="333.60" y="358.80" font-size="4.5" fill="#333" font-weight="bold" text-anchor="middle" dominant-baseline="central" font-family='"Liberation Sans", sans-serif' >0.8</text>
<line x1="359.90" y1="351.50" x2="359.90" y2="353.00" stroke="#6a6a6a" stroke-width="0.8" />
<text x="359.90" y="358.80" font-size="4.5" fill="#333" font-weight="bold" text-anchor="middle" dominant-baseline="central" font-family='"Liberation Sans", sans-serif' >1.0</text>
<text x="243.60" y="247.40" font-size="9.350000000000001" fill="#000" font-weight="bold" text-anchor="start" dominant-baseline="central" font-family='"Liberation Sans", sans-serif' textLength="106.40" lengthAdjust="spacingAndGlyphs" >ROC Curve, severe /critical(all)</text>
<text x="273.70" y="257.70" font-size="9.350000000000001" fill="#000" font-weight="bold" text-anchor="start" dominant-baseline="central" font-family='"Liberation Sans", sans-serif' textLength="48.30" lengthAdjust="spacingAndGlyphs" >vs non-severe</text>
<text x="207.00" y="313.40" font-size="9.9" fill="#000" font-weight="bold" text-anchor="middle" dominant-baseline="central" font-family='"Liberation Sans", sans-serif' textLength="103.20" lengthAdjust="spacingAndGlyphs" transform="rotate(-90 207.00 313.40)" >True positive rate (Sensitivity)</text>
<text x="256.00" y="366.20" font-size="9.9" fill="#000" font-weight="bold" text-anchor="start" dominant-baseline="central" font-family='"Liberation Sans", sans-serif' textLength="113.40" lengthAdjust="spacingAndGlyphs" >False positive rate (1-Specificity)</text>
<text x="265.90" y="343.00" font-size="9.9" fill="#111" font-weight="normal" text-anchor="start" dominant-baseline="central" font-family='"Liberation Sans", sans-serif' textLength="98.80" lengthAdjust="spacingAndGlyphs" >AUC: 0.82 (95%CI: 0.69-0.96)</text>
<path d="M228.30 351.50 L228.30 333.30 L232.10 333.30 L232.10 321.60 L236.30 321.60 L236.30 287.20 L240.70 287.20 L244.60 283.50 L320.60 283.50 L320.60 279.30 L332.60 279.30 L332.60 275.30 L336.10 275.30 L336.10 271.50 L340.30 271.50 L340.30 267.50 L359.90 267.50" fill="none" stroke="#7a7ad6" stroke-width="1.0" />
<path d="M228.40 352.10 L359.90 267.50" fill="none" stroke="#ff6464" stroke-width="0.9" />
<text x="187.00" y="245.85" font-size="14.5" fill="#000" font-weight="bold" text-anchor="start" dominant-baseline="central" font-family='"Liberation Sans", sans-serif' textLength="21.90" lengthAdjust="spacingAndGlyphs" >(III)</text>
<line x1="223.80" y1="402.30" x2="365.20" y2="402.30" stroke="#9a9a9a" stroke-width="1" />
<line x1="365.20" y1="402.30" x2="365.20" y2="489.60" stroke="#8a8a8a" stroke-width="1" />
<line x1="223.80" y1="401.80" x2="223.80" y2="490.30" stroke="#6e6e6e" stroke-width="1.4" />
<line x1="223.10" y1="489.60" x2="365.70" y2="489.60" stroke="#6e6e6e" stroke-width="1.4" />
<line x1="222.30" y1="477.40" x2="223.80" y2="477.40" stroke="#6a6a6a" stroke-width="0.8" />
<text x="217.40" y="477.40" font-size="4.5" fill="#333" font-weight="bold" text-anchor="middle" dominant-baseline="central" font-family='"Liberation Sans", sans-serif' transform="rotate(-90 217.40 477.40)" >0.2</text>
<line x1="222.30" y1="459.50" x2="223.80" y2="459.50" stroke="#6a6a6a" stroke-width="0.8" />
<text x="217.40" y="459.50" font-size="4.5" fill="#333" font-weight="bold" text-anchor="middle" dominant-baseline="central" font-family='"Liberation Sans", sans-serif' transform="rotate(-90 217.40 459.50)" >0.4</text>
<line x1="222.30" y1="441.60" x2="223.80" y2="441.60" stroke="#6a6a6a" stroke-width="0.8" />
<text x="217.40" y="441.60" font-size="4.5" fill="#333" font-weight="bold" text-anchor="middle" dominant-baseline="central" font-family='"Liberation Sans", sans-serif' transform="rotate(-90 217.40 441.60)" >0.6</text>
<line x1="222.30" y1="423.70" x2="223.80" y2="423.70" stroke="#6a6a6a" stroke-width="0.8" />
<text x="217.40" y="423.70" font-size="4.5" fill="#333" font-weight="bold" text-anchor="middle" dominant-baseline="central" font-family='"Liberation Sans", sans-serif' transform="rotate(-90 217.40 423.70)" >0.8</text>
<line x1="222.30" y1="405.80" x2="223.80" y2="405.80" stroke="#6a6a6a" stroke-width="0.8" />
<text x="217.40" y="405.80" font-size="4.5" fill="#333" font-weight="bold" text-anchor="middle" dominant-baseline="central" font-family='"Liberation Sans", sans-serif' transform="rotate(-90 217.40 405.80)" >1.0</text>
<line x1="228.90" y1="489.60" x2="228.90" y2="491.10" stroke="#6a6a6a" stroke-width="0.8" />
<text x="228.90" y="496.20" font-size="4.5" fill="#333" font-weight="bold" text-anchor="middle" dominant-baseline="central" font-family='"Liberation Sans", sans-serif' >0.0</text>
<line x1="255.10" y1="489.60" x2="255.10" y2="491.10" stroke="#6a6a6a" stroke-width="0.8" />
<text x="255.10" y="496.20" font-size="4.5" fill="#333" font-weight="bold" text-anchor="middle" dominant-baseline="central" font-family='"Liberation Sans", sans-serif' >0.2</text>
<line x1="281.30" y1="489.60" x2="281.30" y2="491.10" stroke="#6a6a6a" stroke-width="0.8" />
<text x="281.30" y="496.20" font-size="4.5" fill="#333" font-weight="bold" text-anchor="middle" dominant-baseline="central" font-family='"Liberation Sans", sans-serif' >0.4</text>
<line x1="307.50" y1="489.60" x2="307.50" y2="491.10" stroke="#6a6a6a" stroke-width="0.8" />
<text x="307.50" y="496.20" font-size="4.5" fill="#333" font-weight="bold" text-anchor="middle" dominant-baseline="central" font-family='"Liberation Sans", sans-serif' >0.6</text>
<line x1="333.70" y1="489.60" x2="333.70" y2="491.10" stroke="#6a6a6a" stroke-width="0.8" />
<text x="333.70" y="496.20" font-size="4.5" fill="#333" font-weight="bold" text-anchor="middle" dominant-baseline="central" font-family='"Liberation Sans", sans-serif' >0.8</text>
<line x1="359.90" y1="489.60" x2="359.90" y2="491.10" stroke="#6a6a6a" stroke-width="0.8" />
<text x="359.90" y="496.20" font-size="4.5" fill="#333" font-weight="bold" text-anchor="middle" dominant-baseline="central" font-family='"Liberation Sans", sans-serif' >1.0</text>
<text x="272.60" y="392.80" font-size="9.350000000000001" fill="#000" font-weight="bold" text-anchor="start" dominant-baseline="central" font-family='"Liberation Sans", sans-serif' textLength="48.40" lengthAdjust="spacingAndGlyphs" >vs non-severe</text>
<text x="205.20" y="448.75" font-size="9.9" fill="#000" font-weight="bold" text-anchor="middle" dominant-baseline="central" font-family='"Liberation Sans", sans-serif' textLength="104.30" lengthAdjust="spacingAndGlyphs" transform="rotate(-90 205.20 448.75)" >True positive rate (Sensitivity)</text>
<text x="247.30" y="503.70" font-size="9.9" fill="#000" font-weight="bold" text-anchor="start" dominant-baseline="central" font-family='"Liberation Sans", sans-serif' textLength="114.40" lengthAdjust="spacingAndGlyphs" >False positive rate (1-Specificity)</text>
<text x="275.10" y="481.00" font-size="9.9" fill="#111" font-weight="normal" text-anchor="start" dominant-baseline="central" font-family='"Liberation Sans", sans-serif' textLength="88.40" lengthAdjust="spacingAndGlyphs" >AUC: 0.88 (95%CI: 0.73-1)</text>
<path d="M228.90 486.60 L228.90 478.40 L233.40 478.40 L233.40 454.30 L238.50 454.30 L238.50 413.60 L335.30 413.60 L335.30 405.80 L359.90 405.80" fill="none" stroke="#7a7ad6" stroke-width="1.0" />
<path d="M237.30 489.60 L359.90 405.80" fill="none" stroke="#ff6464" stroke-width="0.9" />
<text x="186.60" y="383.60" font-size="14.5" fill="#000" font-weight="bold" text-anchor="start" dominant-baseline="central" font-family='"Liberation Sans", sans-serif' textLength="23.40" lengthAdjust="spacingAndGlyphs" >(IV)</text>
<text x="218.50" y="382.50" font-size="9.35" fill="#000" font-weight="bold" text-anchor="start" dominant-baseline="central" font-family='"Liberation Sans", sans-serif' textLength="156.50" lengthAdjust="spacingAndGlyphs" >ROC Curve, severe /critical (no co-morbidity)</text>
<line x1="170.80" y1="316.00" x2="170.80" y2="356.00" stroke="#dcdcdc" stroke-width="0.9" stroke-dasharray="1.2 0.8"/>
<line x1="171.20" y1="449.50" x2="171.20" y2="489.00" stroke="#dcdcdc" stroke-width="0.9" stroke-dasharray="1.2 0.8"/>
<line x1="368.80" y1="310.00" x2="368.80" y2="350.00" stroke="#dcdcdc" stroke-width="0.9" stroke-dasharray="1.2 0.8"/>
<line x1="368.80" y1="445.00" x2="368.80" y2="489.00" stroke="#dcdcdc" stroke-width="0.9" stroke-dasharray="1.2 0.8"/>
<rect x="384.10" y="217.30" width="138.90" height="158.00" fill="#fafafa" stroke="none" stroke-width="1" />
<text x="366.60" y="236.60" font-size="14.5" fill="#000" font-weight="bold" text-anchor="start" dominant-baseline="central" font-family='"Liberation Sans", sans-serif' textLength="19.20" lengthAdjust="spacingAndGlyphs" >(V)</text>
<text x="409.30" y="225.40" font-size="7.2" fill="#000" font-weight="normal" text-anchor="start" dominant-baseline="central" font-family='"Liberation Sans", sans-serif' textLength="88.30" lengthAdjust="spacingAndGlyphs" stroke="#000" stroke-width="0.22">Youden's J and test Efficiency</text>
<text x="424.70" y="233.10" font-size="7.2" fill="#000" font-weight="normal" text-anchor="start" dominant-baseline="central" font-family='"Liberation Sans", sans-serif' textLength="57.20" lengthAdjust="spacingAndGlyphs" stroke="#000" stroke-width="0.22">Severe /critical(all)</text>
<text x="433.30" y="240.60" font-size="7.2" fill="#000" font-weight="normal" text-anchor="start" dominant-baseline="central" font-family='"Liberation Sans", sans-serif' textLength="42.00" lengthAdjust="spacingAndGlyphs" stroke="#000" stroke-width="0.22">vs non-severe</text>
<rect x="408.80" y="247.30" width="84.70" height="42.10" fill="#fff" stroke="#b0b0b0" stroke-width="0.8" />
<line x1="407.80" y1="248.70" x2="408.80" y2="248.70" stroke="#777" stroke-width="0.5" />
<text x="404.80" y="248.70" font-size="3" fill="#333" font-weight="normal" text-anchor="middle" dominant-baseline="central" font-family='"Liberation Sans", sans-serif' transform="rotate(-90 404.80 248.70)" >0.0</text>
<line x1="407.80" y1="256.40" x2="408.80" y2="256.40" stroke="#777" stroke-width="0.5" />
<text x="404.80" y="256.40" font-size="3" fill="#333" font-weight="normal" text-anchor="middle" dominant-baseline="central" font-family='"Liberation Sans", sans-serif' transform="rotate(-90 404.80 256.40)" >0.0</text>
<line x1="407.80" y1="264.20" x2="408.80" y2="264.20" stroke="#777" stroke-width="0.5" />
<text x="404.80" y="264.20" font-size="3" fill="#333" font-weight="normal" text-anchor="middle" dominant-baseline="central" font-family='"Liberation Sans", sans-serif' transform="rotate(-90 404.80 264.20)" >0.0</text>
<line x1="407.80" y1="272.20" x2="408.80" y2="272.20" stroke="#777" stroke-width="0.5" />
<text x="404.80" y="272.20" font-size="3" fill="#333" font-weight="normal" text-anchor="middle" dominant-baseline="central" font-family='"Liberation Sans", sans-serif' transform="rotate(-90 404.80 272.20)" >0.0</text>
<line x1="407.80" y1="280.30" x2="408.80" y2="280.30" stroke="#777" stroke-width="0.5" />
<text x="404.80" y="280.30" font-size="3" fill="#333" font-weight="normal" text-anchor="middle" dominant-baseline="central" font-family='"Liberation Sans", sans-serif' transform="rotate(-90 404.80 280.30)" >0.0</text>
<line x1="407.80" y1="287.90" x2="408.80" y2="287.90" stroke="#777" stroke-width="0.5" />
<text x="404.80" y="287.90" font-size="3" fill="#333" font-weight="normal" text-anchor="middle" dominant-baseline="central" font-family='"Liberation Sans", sans-serif' transform="rotate(-90 404.80 287.90)" >0.0</text>
<line x1="427.20" y1="289.40" x2="427.20" y2="290.40" stroke="#777" stroke-width="0.5" />
<text x="427.20" y="291.60" font-size="3" fill="#333" font-weight="normal" text-anchor="middle" dominant-baseline="central" font-family='"Liberation Sans", sans-serif' >5</text>
<line x1="445.90" y1="289.40" x2="445.90" y2="290.40" stroke="#777" stroke-width="0.5" />
<text x="445.90" y="291.60" font-size="3" fill="#333" font-weight="normal" text-anchor="middle" dominant-baseline="central" font-family='"Liberation Sans", sans-serif' >10</text>
<line x1="465.00" y1="289.40" x2="465.00" y2="290.40" stroke="#777" stroke-width="0.5" />
<text x="465.00" y="291.60" font-size="3" fill="#333" font-weight="normal" text-anchor="middle" dominant-baseline="central" font-family='"Liberation Sans", sans-serif' >15</text>
<line x1="483.20" y1="289.40" x2="483.20" y2="290.40" stroke="#777" stroke-width="0.5" />
<text x="483.20" y="291.60" font-size="3" fill="#333" font-weight="normal" text-anchor="middle" dominant-baseline="central" font-family='"Liberation Sans", sans-serif' >20</text>
<path d="M411.20 268.30 L423.60 268.00 L426.50 265.50 L430.00 266.00 L434.00 263.50 L438.90 260.20 L441.30 257.80 L446.00 253.80 L452.00 253.20 L455.00 253.50 L457.00 255.50 L460.00 258.50 L465.00 262.00 L470.00 264.00 L480.00 266.00 L490.00 267.50" fill="none" stroke="#80b8a4" stroke-width="0.75" stroke-linejoin="round" stroke-linecap="round"/>
<path d="M411.20 276.50 L423.60 275.50 L426.00 272.50 L430.00 270.50 L435.00 263.00 L441.00 257.50 L446.00 253.50 L455.00 253.00 L460.00 256.00 L465.00 257.50 L475.00 258.50 L490.00 260.00" fill="none" stroke="#f8b070" stroke-width="0.75" stroke-linejoin="round" stroke-linecap="round"/>
<path d="M411.20 280.30 L423.60 279.50 L428.00 275.00 L431.00 273.50 L441.00 257.50 L446.00 253.50 L455.00 253.00 L460.00 254.50 L465.00 255.50 L475.00 255.50 L490.00 256.30" fill="none" stroke="#c880f4" stroke-width="0.75" stroke-linejoin="round" stroke-linecap="round"/>
<path d="M411.20 284.30 L423.60 283.50 L441.00 257.50 L446.00 253.50 L455.00 252.00 L470.00 252.00 L490.00 252.40" fill="none" stroke="#a04848" stroke-width="0.75" stroke-linejoin="round" stroke-linecap="round"/>
<path d="M411.20 286.20 L423.60 285.50 L441.00 257.50 L446.00 253.50 L455.00 252.00 L465.00 251.50 L475.00 250.50 L490.00 250.30" fill="none" stroke="#78b078" stroke-width="0.75" stroke-linejoin="round" stroke-linecap="round"/>
<path d="M411.20 287.20 L423.60 287.00 L441.00 257.50 L446.00 253.50 L455.00 252.00 L465.00 250.50 L475.00 249.00 L490.00 249.00" fill="none" stroke="#f0a0a0" stroke-width="0.75" stroke-linejoin="round" stroke-linecap="round"/>
<path d="M411.20 288.00 L423.60 287.00 L426.00 283.50 L428.50 285.00 L429.90 284.60 L432.00 282.00 L440.00 270.00 L445.00 262.00 L446.00 260.30 L452.00 260.50 L454.00 260.00 L456.00 262.00 L458.00 266.50 L461.00 270.00 L463.00 273.00 L465.00 275.50 L467.00 278.50 L469.00 279.00 L471.00 280.50 L473.00 280.80 L474.00 279.50 L476.00 281.50 L479.00 283.00 L482.00 284.00 L484.00 285.00" fill="none" stroke="#5858cc" stroke-width="0.75" stroke-linejoin="round" stroke-linecap="round"/>
<rect x="478.70" y="279.30" width="14.80" height="10.10" fill="#f0f0f0" stroke="#999" stroke-width="0.5" />
<line x1="480.70" y1="280.90" x2="483.70" y2="280.90" stroke="#f08080" stroke-width="0.6" />
<line x1="484.70" y1="280.90" x2="492.00" y2="280.90" stroke="#aaa" stroke-width="0.6" />
<line x1="480.70" y1="282.60" x2="483.70" y2="282.60" stroke="#c060f0" stroke-width="0.6" />
<line x1="484.70" y1="282.60" x2="492.00" y2="282.60" stroke="#aaa" stroke-width="0.6" />
<line x1="480.70" y1="284.30" x2="483.70" y2="284.30" stroke="#f5a050" stroke-width="0.6" />
<line x1="484.70" y1="284.30" x2="492.00" y2="284.30" stroke="#aaa" stroke-width="0.6" />
<line x1="480.70" y1="286.00" x2="483.70" y2="286.00" stroke="#6aaa96" stroke-width="0.6" />
<line x1="484.70" y1="286.00" x2="492.00" y2="286.00" stroke="#aaa" stroke-width="0.6" />
<line x1="480.70" y1="287.70" x2="483.70" y2="287.70" stroke="#a03030" stroke-width="0.6" />
<line x1="484.70" y1="287.70" x2="492.00" y2="287.70" stroke="#aaa" stroke-width="0.6" />
<text x="397.10" y="268.20" font-size="7.6" fill="#000" font-weight="normal" text-anchor="middle" dominant-baseline="central" font-family='"Liberation Sans", sans-serif' textLength="26.80" lengthAdjust="spacingAndGlyphs" transform="rotate(-90 397.10 268.20)" stroke="#000" stroke-width="0.12">J/Efficiency</text>
<text x="436.00" y="297.90" font-size="7.9" fill="#000" font-weight="normal" text-anchor="start" dominant-baseline="central" font-family='"Liberation Sans", sans-serif' textLength="35.60" lengthAdjust="spacingAndGlyphs" stroke="#000" stroke-width="0.15">Cut off value</text>
<text x="390.90" y="303.70" font-size="7.8" fill="#000" font-weight="normal" text-anchor="start" dominant-baseline="central" font-family='"Liberation Sans", sans-serif' textLength="118.10" lengthAdjust="spacingAndGlyphs" stroke="#000" stroke-width="0.22">Cut-points to maximise Youden's J and</text>
<text x="428.70" y="311.30" font-size="7.8" fill="#000" font-weight="normal" text-anchor="start" dominant-baseline="central" font-family='"Liberation Sans", sans-serif' textLength="42.10" lengthAdjust="spacingAndGlyphs" stroke="#000" stroke-width="0.22">test Efficiency</text>
<line x1="383.70" y1="320.60" x2="516.80" y2="320.60" stroke="#333" stroke-width="1.2" />
<line x1="383.70" y1="374.20" x2="516.80" y2="374.20" stroke="#333" stroke-width="1.2" />
<text x="426.60" y="324.30" font-size="5.8" fill="#000" font-weight="normal" text-anchor="start" dominant-baseline="central" font-family='"Liberation Sans", sans-serif' textLength="23.40" lengthAdjust="spacingAndGlyphs" stroke="#000" stroke-width="0.15">Cut-point</text>
<text x="455.30" y="324.30" font-size="5.8" fill="#000" font-weight="normal" text-anchor="start" dominant-baseline="central" font-family='"Liberation Sans", sans-serif' textLength="24.70" lengthAdjust="spacingAndGlyphs" stroke="#000" stroke-width="0.15">Sensitivity</text>
<text x="487.00" y="324.30" font-size="5.8" fill="#000" font-weight="normal" text-anchor="start" dominant-baseline="central" font-family='"Liberation Sans", sans-serif' textLength="25.20" lengthAdjust="spacingAndGlyphs" stroke="#000" stroke-width="0.15">Specificity</text>
<text x="391.40" y="330.00" font-size="5.8" fill="#e00000" font-weight="normal" text-anchor="start" dominant-baseline="central" font-family='"Liberation Sans", sans-serif' textLength="25.40" lengthAdjust="spacingAndGlyphs" stroke="#e00000" stroke-width="0.3">Youden's J</text>
<text x="437.90" y="330.00" font-size="5.8" fill="#e00000" font-weight="normal" text-anchor="middle" dominant-baseline="central" font-family='"Liberation Sans", sans-serif' stroke="#e00000" stroke-width="0.12">12.065</text>
<text x="466.90" y="330.00" font-size="5.8" fill="#e00000" font-weight="normal" text-anchor="middle" dominant-baseline="central" font-family='"Liberation Sans", sans-serif' stroke="#e00000" stroke-width="0.12">0.778</text>
<text x="499.80" y="330.00" font-size="5.8" fill="#e00000" font-weight="normal" text-anchor="middle" dominant-baseline="central" font-family='"Liberation Sans", sans-serif' stroke="#e00000" stroke-width="0.12">0.989</text>
<text x="387.00" y="336.90" font-size="5.8" fill="#111" font-weight="normal" text-anchor="start" dominant-baseline="central" font-family='"Liberation Sans", sans-serif' textLength="33.80" lengthAdjust="spacingAndGlyphs" stroke="#111" stroke-width="0.3">Eff. at P = 0.01</text>
<text x="437.90" y="336.90" font-size="5.8" fill="#111" font-weight="normal" text-anchor="middle" dominant-baseline="central" font-family='"Liberation Sans", sans-serif' stroke="#111" stroke-width="0.12">17.421</text>
<text x="466.90" y="336.90" font-size="5.8" fill="#111" font-weight="normal" text-anchor="middle" dominant-baseline="central" font-family='"Liberation Sans", sans-serif' stroke="#111" stroke-width="0.12">0.227</text>
<text x="499.80" y="336.90" font-size="5.8" fill="#111" font-weight="normal" text-anchor="middle" dominant-baseline="central" font-family='"Liberation Sans", sans-serif' stroke="#111" stroke-width="0.12">1</text>
<text x="387.00" y="343.80" font-size="5.8" fill="#111" font-weight="normal" text-anchor="start" dominant-baseline="central" font-family='"Liberation Sans", sans-serif' textLength="33.80" lengthAdjust="spacingAndGlyphs" stroke="#111" stroke-width="0.3">Eff. at P = 0.05</text>
<text x="437.90" y="343.80" font-size="5.8" fill="#111" font-weight="normal" text-anchor="middle" dominant-baseline="central" font-family='"Liberation Sans", sans-serif' stroke="#111" stroke-width="0.12">17.421</text>
<text x="466.90" y="343.80" font-size="5.8" fill="#111" font-weight="normal" text-anchor="middle" dominant-baseline="central" font-family='"Liberation Sans", sans-serif' stroke="#111" stroke-width="0.12">0.227</text>
<text x="499.80" y="343.80" font-size="5.8" fill="#111" font-weight="normal" text-anchor="middle" dominant-baseline="central" font-family='"Liberation Sans", sans-serif' stroke="#111" stroke-width="0.12">1</text>
<text x="388.70" y="350.50" font-size="5.8" fill="#111" font-weight="normal" text-anchor="start" dominant-baseline="central" font-family='"Liberation Sans", sans-serif' textLength="30.80" lengthAdjust="spacingAndGlyphs" stroke="#111" stroke-width="0.3">Eff. at P = 0.1</text>
<text x="437.90" y="350.50" font-size="5.8" fill="#111" font-weight="normal" text-anchor="middle" dominant-baseline="central" font-family='"Liberation Sans", sans-serif' stroke="#111" stroke-width="0.12">12.065</text>
<text x="466.90" y="350.50" font-size="5.8" fill="#111" font-weight="normal" text-anchor="middle" dominant-baseline="central" font-family='"Liberation Sans", sans-serif' stroke="#111" stroke-width="0.12">0.778</text>
<text x="499.80" y="350.50" font-size="5.8" fill="#111" font-weight="normal" text-anchor="middle" dominant-baseline="central" font-family='"Liberation Sans", sans-serif' stroke="#111" stroke-width="0.12">0.989</text>
<text x="388.70" y="357.70" font-size="5.8" fill="#111" font-weight="normal" text-anchor="start" dominant-baseline="central" font-family='"Liberation Sans", sans-serif' textLength="30.80" lengthAdjust="spacingAndGlyphs" stroke="#111" stroke-width="0.3">Eff. at P = 0.2</text>
<text x="437.90" y="357.70" font-size="5.8" fill="#111" font-weight="normal" text-anchor="middle" dominant-baseline="central" font-family='"Liberation Sans", sans-serif' stroke="#111" stroke-width="0.12">12.065</text>
<text x="466.90" y="357.70" font-size="5.8" fill="#111" font-weight="normal" text-anchor="middle" dominant-baseline="central" font-family='"Liberation Sans", sans-serif' stroke="#111" stroke-width="0.12">0.778</text>
<text x="499.80" y="357.70" font-size="5.8" fill="#111" font-weight="normal" text-anchor="middle" dominant-baseline="central" font-family='"Liberation Sans", sans-serif' stroke="#111" stroke-width="0.12">0.989</text>
<text x="388.70" y="364.10" font-size="5.8" fill="#111" font-weight="normal" text-anchor="start" dominant-baseline="central" font-family='"Liberation Sans", sans-serif' textLength="30.80" lengthAdjust="spacingAndGlyphs" stroke="#111" stroke-width="0.3">Eff. at P = 0.3</text>
<text x="437.90" y="364.10" font-size="5.8" fill="#111" font-weight="normal" text-anchor="middle" dominant-baseline="central" font-family='"Liberation Sans", sans-serif' stroke="#111" stroke-width="0.12">12.065</text>
<text x="466.90" y="364.10" font-size="5.8" fill="#111" font-weight="normal" text-anchor="middle" dominant-baseline="central" font-family='"Liberation Sans", sans-serif' stroke="#111" stroke-width="0.12">0.778</text>
<text x="499.80" y="364.10" font-size="5.8" fill="#111" font-weight="normal" text-anchor="middle" dominant-baseline="central" font-family='"Liberation Sans", sans-serif' stroke="#111" stroke-width="0.12">0.989</text>
<text x="388.70" y="370.70" font-size="5.8" fill="#111" font-weight="normal" text-anchor="start" dominant-baseline="central" font-family='"Liberation Sans", sans-serif' textLength="30.80" lengthAdjust="spacingAndGlyphs" stroke="#111" stroke-width="0.3">Eff. at P = 0.5</text>
<text x="437.90" y="370.70" font-size="5.8" fill="#111" font-weight="normal" text-anchor="middle" dominant-baseline="central" font-family='"Liberation Sans", sans-serif' stroke="#111" stroke-width="0.12">12.065</text>
<text x="466.90" y="370.70" font-size="5.8" fill="#111" font-weight="normal" text-anchor="middle" dominant-baseline="central" font-family='"Liberation Sans", sans-serif' stroke="#111" stroke-width="0.12">0.778</text>
<text x="499.80" y="370.70" font-size="5.8" fill="#111" font-weight="normal" text-anchor="middle" dominant-baseline="central" font-family='"Liberation Sans", sans-serif' stroke="#111" stroke-width="0.12">0.989</text>
<rect x="389.50" y="387.20" width="133.50" height="160.00" fill="#fafafa" stroke="none" stroke-width="1" />
<text x="372.40" y="400.75" font-size="14.5" fill="#000" font-weight="bold" text-anchor="start" dominant-baseline="central" font-family='"Liberation Sans", sans-serif' textLength="23.40" lengthAdjust="spacingAndGlyphs" >(VI)</text>
<clipPath id="cp6"><rect x="389.9" y="387.2" width="133.1" height="20"/></clipPath>
<g clip-path="url(#cp6)">
<text x="414.90" y="388.80" font-size="7.2" fill="#000" font-weight="normal" text-anchor="start" dominant-baseline="central" font-family='"Liberation Sans", sans-serif' textLength="85.00" lengthAdjust="spacingAndGlyphs" stroke="#000" stroke-width="0.22">Youden's J and test Efficiency</text>
</g>
<text x="408.20" y="397.60" font-size="7.2" fill="#000" font-weight="normal" text-anchor="start" dominant-baseline="central" font-family='"Liberation Sans", sans-serif' textLength="97.50" lengthAdjust="spacingAndGlyphs" stroke="#000" stroke-width="0.22">Severe /critical (no co-morbidity)</text>
<text x="436.50" y="406.00" font-size="7.2" fill="#000" font-weight="normal" text-anchor="start" dominant-baseline="central" font-family='"Liberation Sans", sans-serif' textLength="40.90" lengthAdjust="spacingAndGlyphs" stroke="#000" stroke-width="0.22">vs non-severe</text>
<rect x="415.70" y="411.30" width="79.00" height="42.50" fill="#fff" stroke="#b0b0b0" stroke-width="0.8" />
<line x1="414.70" y1="412.70" x2="415.70" y2="412.70" stroke="#777" stroke-width="0.5" />
<text x="411.90" y="412.70" font-size="3" fill="#333" font-weight="normal" text-anchor="middle" dominant-baseline="central" font-family='"Liberation Sans", sans-serif' transform="rotate(-90 411.90 412.70)" >0.0</text>
<line x1="414.70" y1="420.70" x2="415.70" y2="420.70" stroke="#777" stroke-width="0.5" />
<text x="411.90" y="420.70" font-size="3" fill="#333" font-weight="normal" text-anchor="middle" dominant-baseline="central" font-family='"Liberation Sans", sans-serif' transform="rotate(-90 411.90 420.70)" >0.0</text>
<line x1="414.70" y1="428.50" x2="415.70" y2="428.50" stroke="#777" stroke-width="0.5" />
<text x="411.90" y="428.50" font-size="3" fill="#333" font-weight="normal" text-anchor="middle" dominant-baseline="central" font-family='"Liberation Sans", sans-serif' transform="rotate(-90 411.90 428.50)" >0.0</text>
<line x1="414.70" y1="436.40" x2="415.70" y2="436.40" stroke="#777" stroke-width="0.5" />
<text x="411.90" y="436.40" font-size="3" fill="#333" font-weight="normal" text-anchor="middle" dominant-baseline="central" font-family='"Liberation Sans", sans-serif' transform="rotate(-90 411.90 436.40)" >0.0</text>
<line x1="414.70" y1="444.30" x2="415.70" y2="444.30" stroke="#777" stroke-width="0.5" />
<text x="411.90" y="444.30" font-size="3" fill="#333" font-weight="normal" text-anchor="middle" dominant-baseline="central" font-family='"Liberation Sans", sans-serif' transform="rotate(-90 411.90 444.30)" >0.0</text>
<line x1="414.70" y1="452.20" x2="415.70" y2="452.20" stroke="#777" stroke-width="0.5" />
<text x="411.90" y="452.20" font-size="3" fill="#333" font-weight="normal" text-anchor="middle" dominant-baseline="central" font-family='"Liberation Sans", sans-serif' transform="rotate(-90 411.90 452.20)" >0.0</text>
<line x1="436.80" y1="453.80" x2="436.80" y2="454.80" stroke="#777" stroke-width="0.5" />
<text x="436.80" y="457.00" font-size="3" fill="#333" font-weight="normal" text-anchor="middle" dominant-baseline="central" font-family='"Liberation Sans", sans-serif' >5</text>
<line x1="459.50" y1="453.80" x2="459.50" y2="454.80" stroke="#777" stroke-width="0.5" />
<text x="459.50" y="457.00" font-size="3" fill="#333" font-weight="normal" text-anchor="middle" dominant-baseline="central" font-family='"Liberation Sans", sans-serif' >10</text>
<line x1="482.00" y1="453.80" x2="482.00" y2="454.80" stroke="#777" stroke-width="0.5" />
<text x="482.00" y="457.00" font-size="3" fill="#333" font-weight="normal" text-anchor="middle" dominant-baseline="central" font-family='"Liberation Sans", sans-serif' >15</text>
<path d="M418.80 432.30 L433.00 432.00 L436.80 429.50 L438.70 431.20 L445.00 427.50 L450.00 424.50 L453.00 421.50 L456.00 419.00 L460.00 416.50 L465.00 416.00 L470.00 415.80 L475.00 420.00 L480.00 424.00 L483.00 426.00 L485.00 427.50 L490.00 429.50 L492.00 429.80" fill="none" stroke="#80b8a4" stroke-width="0.75" stroke-linejoin="round" stroke-linecap="round"/>
<path d="M418.80 440.50 L433.00 439.50 L437.00 436.50 L440.00 435.00 L443.00 432.00 L447.00 429.00 L450.00 427.00 L453.00 422.00 L456.00 419.00 L460.00 416.50 L465.00 416.00 L470.00 416.00 L475.00 419.00 L480.00 421.00 L485.00 422.50 L490.00 423.00 L492.00 422.50" fill="none" stroke="#f8b070" stroke-width="0.75" stroke-linejoin="round" stroke-linecap="round"/>
<path d="M418.80 444.50 L433.00 443.50 L437.00 440.00 L441.00 437.00 L445.00 434.00 L450.00 429.00 L453.00 422.50 L456.00 419.00 L460.00 416.50 L465.00 416.00 L470.00 416.00 L475.00 418.00 L480.00 419.00 L485.00 420.30 L490.00 420.50 L492.00 419.50" fill="none" stroke="#c880f4" stroke-width="0.75" stroke-linejoin="round" stroke-linecap="round"/>
<path d="M418.80 448.40 L433.00 447.50 L437.00 443.00 L441.00 439.00 L445.00 436.00 L450.00 430.50 L453.00 423.00 L456.00 419.00 L460.00 416.50 L470.00 415.80 L475.00 416.50 L485.00 417.00 L492.00 416.50" fill="none" stroke="#a04848" stroke-width="0.75" stroke-linejoin="round" stroke-linecap="round"/>
<path d="M418.80 450.50 L433.00 450.00 L437.00 445.00 L441.00 440.00 L445.00 436.50 L450.00 431.00 L453.00 423.00 L456.00 419.00 L460.00 416.50 L470.00 415.80 L480.00 415.50 L492.00 414.50" fill="none" stroke="#78b078" stroke-width="0.75" stroke-linejoin="round" stroke-linecap="round"/>
<path d="M418.80 452.40 L433.00 452.00 L437.00 447.00 L441.00 441.00 L445.00 437.00 L450.00 431.50 L453.00 423.00 L456.00 419.00 L460.00 416.50 L465.00 416.00 L472.00 415.50 L480.00 414.50 L485.00 414.00 L490.00 413.50 L492.00 413.00" fill="none" stroke="#f0a0a0" stroke-width="0.75" stroke-linejoin="round" stroke-linecap="round"/>
<path d="M418.80 453.00 L433.00 452.00 L435.50 448.00 L437.50 449.00 L440.00 446.00 L445.00 440.00 L450.00 434.00 L453.00 430.00 L455.00 427.00 L458.00 422.00 L460.00 420.00 L465.00 419.30 L468.00 419.30 L471.00 422.00 L473.60 426.00 L476.00 431.00 L478.40 435.60 L480.30 436.50 L482.20 439.40 L483.70 443.30 L484.60 445.00" fill="none" stroke="#5858cc" stroke-width="0.75" stroke-linejoin="round" stroke-linecap="round"/>
<rect x="481.30" y="444.30" width="13.40" height="9.50" fill="#f0f0f0" stroke="#999" stroke-width="0.5" />
<line x1="483.30" y1="445.90" x2="486.30" y2="445.90" stroke="#f08080" stroke-width="0.6" />
<line x1="487.30" y1="445.90" x2="493.20" y2="445.90" stroke="#aaa" stroke-width="0.6" />
<line x1="483.30" y1="447.60" x2="486.30" y2="447.60" stroke="#c060f0" stroke-width="0.6" />
<line x1="487.30" y1="447.60" x2="493.20" y2="447.60" stroke="#aaa" stroke-width="0.6" />
<line x1="483.30" y1="449.30" x2="486.30" y2="449.30" stroke="#f5a050" stroke-width="0.6" />
<line x1="487.30" y1="449.30" x2="493.20" y2="449.30" stroke="#aaa" stroke-width="0.6" />
<line x1="483.30" y1="451.00" x2="486.30" y2="451.00" stroke="#6aaa96" stroke-width="0.6" />
<line x1="487.30" y1="451.00" x2="493.20" y2="451.00" stroke="#aaa" stroke-width="0.6" />
<line x1="483.30" y1="452.70" x2="486.30" y2="452.70" stroke="#a03030" stroke-width="0.6" />
<line x1="487.30" y1="452.70" x2="493.20" y2="452.70" stroke="#aaa" stroke-width="0.6" />
<text x="404.40" y="435.50" font-size="7.6" fill="#000" font-weight="normal" text-anchor="middle" dominant-baseline="central" font-family='"Liberation Sans", sans-serif' textLength="29.00" lengthAdjust="spacingAndGlyphs" transform="rotate(-90 404.40 435.50)" stroke="#000" stroke-width="0.12">J/Efficiency</text>
<text x="439.60" y="463.80" font-size="7.9" fill="#000" font-weight="normal" text-anchor="start" dominant-baseline="central" font-family='"Liberation Sans", sans-serif' textLength="34.20" lengthAdjust="spacingAndGlyphs" stroke="#000" stroke-width="0.15">Cut off value</text>
<text x="406.50" y="472.80" font-size="7.8" fill="#000" font-weight="normal" text-anchor="start" dominant-baseline="central" font-family='"Liberation Sans", sans-serif' textLength="100.70" lengthAdjust="spacingAndGlyphs" stroke="#000" stroke-width="0.22">Cut-points to maximise Youden's J</text>
<text x="430.00" y="480.30" font-size="7.8" fill="#000" font-weight="normal" text-anchor="start" dominant-baseline="central" font-family='"Liberation Sans", sans-serif' textLength="54.50" lengthAdjust="spacingAndGlyphs" stroke="#000" stroke-width="0.22">and test Efficiency</text>
<line x1="396.00" y1="489.60" x2="521.30" y2="489.60" stroke="#333" stroke-width="1.2" />
<line x1="396.00" y1="546.30" x2="521.30" y2="546.30" stroke="#333" stroke-width="1.2" />
<text x="442.00" y="493.60" font-size="5.8" fill="#000" font-weight="normal" text-anchor="start" dominant-baseline="central" font-family='"Liberation Sans", sans-serif' textLength="22.40" lengthAdjust="spacingAndGlyphs" stroke="#000" stroke-width="0.15">Cut-point</text>
<text x="469.00" y="493.60" font-size="5.8" fill="#000" font-weight="normal" text-anchor="start" dominant-baseline="central" font-family='"Liberation Sans", sans-serif' textLength="23.90" lengthAdjust="spacingAndGlyphs" stroke="#000" stroke-width="0.15">Sensitivity</text>
<text x="496.50" y="493.60" font-size="5.8" fill="#000" font-weight="normal" text-anchor="start" dominant-baseline="central" font-family='"Liberation Sans", sans-serif' textLength="24.10" lengthAdjust="spacingAndGlyphs" stroke="#000" stroke-width="0.15">Specificity</text>
<text x="405.00" y="500.60" font-size="5.8" fill="#e00000" font-weight="normal" text-anchor="start" dominant-baseline="central" font-family='"Liberation Sans", sans-serif' textLength="24.50" lengthAdjust="spacingAndGlyphs" stroke="#e00000" stroke-width="0.3">Youden's J</text>
<text x="452.90" y="500.60" font-size="5.8" fill="#e00000" font-weight="normal" text-anchor="middle" dominant-baseline="central" font-family='"Liberation Sans", sans-serif' stroke="#e00000" stroke-width="0.12">12.065</text>
<text x="480.40" y="500.60" font-size="5.8" fill="#e00000" font-weight="normal" text-anchor="middle" dominant-baseline="central" font-family='"Liberation Sans", sans-serif' stroke="#e00000" stroke-width="0.12">0.909</text>
<text x="508.60" y="500.60" font-size="5.8" fill="#e00000" font-weight="normal" text-anchor="middle" dominant-baseline="central" font-family='"Liberation Sans", sans-serif' stroke="#e00000" stroke-width="0.12">0.926</text>
<text x="400.70" y="508.10" font-size="5.8" fill="#111" font-weight="normal" text-anchor="start" dominant-baseline="central" font-family='"Liberation Sans", sans-serif' textLength="32.80" lengthAdjust="spacingAndGlyphs" stroke="#111" stroke-width="0.3">Eff. at P = 0.01</text>
<text x="452.90" y="508.10" font-size="5.8" fill="#111" font-weight="normal" text-anchor="middle" dominant-baseline="central" font-family='"Liberation Sans", sans-serif' stroke="#111" stroke-width="0.12">17.421</text>
<text x="480.40" y="508.10" font-size="5.8" fill="#111" font-weight="normal" text-anchor="middle" dominant-baseline="central" font-family='"Liberation Sans", sans-serif' stroke="#111" stroke-width="0.12">0.182</text>
<text x="508.60" y="508.10" font-size="5.8" fill="#111" font-weight="normal" text-anchor="middle" dominant-baseline="central" font-family='"Liberation Sans", sans-serif' stroke="#111" stroke-width="0.12">1</text>
<text x="400.70" y="515.00" font-size="5.8" fill="#111" font-weight="normal" text-anchor="start" dominant-baseline="central" font-family='"Liberation Sans", sans-serif' textLength="32.80" lengthAdjust="spacingAndGlyphs" stroke="#111" stroke-width="0.3">Eff. at P = 0.05</text>
<text x="452.90" y="515.00" font-size="5.8" fill="#111" font-weight="normal" text-anchor="middle" dominant-baseline="central" font-family='"Liberation Sans", sans-serif' stroke="#111" stroke-width="0.12">17.421</text>
<text x="480.40" y="515.00" font-size="5.8" fill="#111" font-weight="normal" text-anchor="middle" dominant-baseline="central" font-family='"Liberation Sans", sans-serif' stroke="#111" stroke-width="0.12">0.182</text>
<text x="508.60" y="515.00" font-size="5.8" fill="#111" font-weight="normal" text-anchor="middle" dominant-baseline="central" font-family='"Liberation Sans", sans-serif' stroke="#111" stroke-width="0.12">1</text>
<text x="402.00" y="522.10" font-size="5.8" fill="#111" font-weight="normal" text-anchor="start" dominant-baseline="central" font-family='"Liberation Sans", sans-serif' textLength="30.20" lengthAdjust="spacingAndGlyphs" stroke="#111" stroke-width="0.3">Eff. at P = 0.1</text>
<text x="452.90" y="522.10" font-size="5.8" fill="#111" font-weight="normal" text-anchor="middle" dominant-baseline="central" font-family='"Liberation Sans", sans-serif' stroke="#111" stroke-width="0.12">12.065</text>
<text x="480.40" y="522.10" font-size="5.8" fill="#111" font-weight="normal" text-anchor="middle" dominant-baseline="central" font-family='"Liberation Sans", sans-serif' stroke="#111" stroke-width="0.12">0.909</text>
<text x="508.60" y="522.10" font-size="5.8" fill="#111" font-weight="normal" text-anchor="middle" dominant-baseline="central" font-family='"Liberation Sans", sans-serif' stroke="#111" stroke-width="0.12">0.926</text>
<text x="402.00" y="529.10" font-size="5.8" fill="#111" font-weight="normal" text-anchor="start" dominant-baseline="central" font-family='"Liberation Sans", sans-serif' textLength="30.20" lengthAdjust="spacingAndGlyphs" stroke="#111" stroke-width="0.3">Eff. at P = 0.2</text>
<text x="452.90" y="529.10" font-size="5.8" fill="#111" font-weight="normal" text-anchor="middle" dominant-baseline="central" font-family='"Liberation Sans", sans-serif' stroke="#111" stroke-width="0.12">12.065</text>
<text x="480.40" y="529.10" font-size="5.8" fill="#111" font-weight="normal" text-anchor="middle" dominant-baseline="central" font-family='"Liberation Sans", sans-serif' stroke="#111" stroke-width="0.12">0.909</text>
<text x="508.60" y="529.10" font-size="5.8" fill="#111" font-weight="normal" text-anchor="middle" dominant-baseline="central" font-family='"Liberation Sans", sans-serif' stroke="#111" stroke-width="0.12">0.926</text>
<text x="402.00" y="536.20" font-size="5.8" fill="#111" font-weight="normal" text-anchor="start" dominant-baseline="central" font-family='"Liberation Sans", sans-serif' textLength="30.20" lengthAdjust="spacingAndGlyphs" stroke="#111" stroke-width="0.3">Eff. at P = 0.3</text>
<text x="452.90" y="536.20" font-size="5.8" fill="#111" font-weight="normal" text-anchor="middle" dominant-baseline="central" font-family='"Liberation Sans", sans-serif' stroke="#111" stroke-width="0.12">12.065</text>
<text x="480.40" y="536.20" font-size="5.8" fill="#111" font-weight="normal" text-anchor="middle" dominant-baseline="central" font-family='"Liberation Sans", sans-serif' stroke="#111" stroke-width="0.12">0.909</text>
<text x="508.60" y="536.20" font-size="5.8" fill="#111" font-weight="normal" text-anchor="middle" dominant-baseline="central" font-family='"Liberation Sans", sans-serif' stroke="#111" stroke-width="0.12">0.926</text>
<text x="402.00" y="543.10" font-size="5.8" fill="#111" font-weight="normal" text-anchor="start" dominant-baseline="central" font-family='"Liberation Sans", sans-serif' textLength="30.20" lengthAdjust="spacingAndGlyphs" stroke="#111" stroke-width="0.3">Eff. at P = 0.5</text>
<text x="452.90" y="543.10" font-size="5.8" fill="#111" font-weight="normal" text-anchor="middle" dominant-baseline="central" font-family='"Liberation Sans", sans-serif' stroke="#111" stroke-width="0.12">12.065</text>
<text x="480.40" y="543.10" font-size="5.8" fill="#111" font-weight="normal" text-anchor="middle" dominant-baseline="central" font-family='"Liberation Sans", sans-serif' stroke="#111" stroke-width="0.12">0.909</text>
<text x="508.60" y="543.10" font-size="5.8" fill="#111" font-weight="normal" text-anchor="middle" dominant-baseline="central" font-family='"Liberation Sans", sans-serif' stroke="#111" stroke-width="0.12">0.92</text>
<text x="10.30" y="520.40" font-size="11.5" fill="#000" font-weight="bold" text-anchor="middle" dominant-baseline="central" font-family='"Liberation Sans", sans-serif' >C</text>
<line x1="40.00" y1="505.00" x2="40.00" y2="620.20" stroke="#b8b8b8" stroke-width="1.6" />
<line x1="39.00" y1="619.30" x2="314.00" y2="619.30" stroke="#b0b0b0" stroke-width="1.8" />
<text x="34.70" y="619.40" font-size="5.2" fill="#333" font-weight="normal" text-anchor="end" dominant-baseline="central" font-family='"Liberation Sans", sans-serif' >0</text>
<line x1="38.00" y1="619.40" x2="40.00" y2="619.40" stroke="#b8b8b8" stroke-width="0.8" />
<text x="34.70" y="608.01" font-size="5.2" fill="#333" font-weight="normal" text-anchor="end" dominant-baseline="central" font-family='"Liberation Sans", sans-serif' >2.5</text>
<line x1="38.00" y1="608.01" x2="40.00" y2="608.01" stroke="#b8b8b8" stroke-width="0.8" />
<text x="34.70" y="596.62" font-size="5.2" fill="#333" font-weight="normal" text-anchor="end" dominant-baseline="central" font-family='"Liberation Sans", sans-serif' >5</text>
<line x1="38.00" y1="596.62" x2="40.00" y2="596.62" stroke="#b8b8b8" stroke-width="0.8" />
<text x="34.70" y="585.24" font-size="5.2" fill="#333" font-weight="normal" text-anchor="end" dominant-baseline="central" font-family='"Liberation Sans", sans-serif' >7.5</text>
<line x1="38.00" y1="585.24" x2="40.00" y2="585.24" stroke="#b8b8b8" stroke-width="0.8" />
<text x="34.70" y="573.85" font-size="5.2" fill="#333" font-weight="normal" text-anchor="end" dominant-baseline="central" font-family='"Liberation Sans", sans-serif' >10</text>
<line x1="38.00" y1="573.85" x2="40.00" y2="573.85" stroke="#b8b8b8" stroke-width="0.8" />
<text x="34.70" y="562.46" font-size="5.2" fill="#333" font-weight="normal" text-anchor="end" dominant-baseline="central" font-family='"Liberation Sans", sans-serif' >12.5</text>
<line x1="38.00" y1="562.46" x2="40.00" y2="562.46" stroke="#b8b8b8" stroke-width="0.8" />
<text x="34.70" y="551.08" font-size="5.2" fill="#333" font-weight="normal" text-anchor="end" dominant-baseline="central" font-family='"Liberation Sans", sans-serif' >15</text>
<line x1="38.00" y1="551.08" x2="40.00" y2="551.08" stroke="#b8b8b8" stroke-width="0.8" />
<text x="34.70" y="539.69" font-size="5.2" fill="#333" font-weight="normal" text-anchor="end" dominant-baseline="central" font-family='"Liberation Sans", sans-serif' >17.5</text>
<line x1="38.00" y1="539.69" x2="40.00" y2="539.69" stroke="#b8b8b8" stroke-width="0.8" />
<text x="34.70" y="528.30" font-size="5.2" fill="#333" font-weight="normal" text-anchor="end" dominant-baseline="central" font-family='"Liberation Sans", sans-serif' >20</text>
<line x1="38.00" y1="528.30" x2="40.00" y2="528.30" stroke="#b8b8b8" stroke-width="0.8" />
<line x1="24.50" y1="517.80" x2="33.60" y2="517.80" stroke="#c0c0c0" stroke-width="0.8" stroke-dasharray="1.5 1"/>
<text x="12.40" y="571.85" font-size="10" fill="#000" font-weight="bold" text-anchor="middle" dominant-baseline="central" font-family='"Liberation Sans", sans-serif' textLength="51.20" lengthAdjust="spacingAndGlyphs" transform="rotate(-90 12.40 571.85)" >Severity Score</text>
<line x1="40.00" y1="564.80" x2="313.00" y2="564.80" stroke="#606060" stroke-width="1" stroke-dasharray="4.6 1.9 1 1.9"/>
<text x="114.40" y="559.00" font-size="8.6" fill="#222" font-weight="normal" text-anchor="start" dominant-baseline="central" font-family='"Liberation Sans", sans-serif' textLength="38.00" lengthAdjust="spacingAndGlyphs" >Cut off: 12</text>
<line x1="56.00" y1="585.60" x2="72.10" y2="585.60" stroke="#c0c0c0" stroke-width="1.3" />
<line x1="60.00" y1="571.30" x2="68.00" y2="571.30" stroke="#d0d0d0" stroke-width="0.8" />
<line x1="60.00" y1="600.40" x2="68.00" y2="600.40" stroke="#d0d0d0" stroke-width="0.8" />
<circle cx="64.00" cy="553.00" r="1.5" fill="#0e6a0e" stroke="#3aa02a" stroke-width="0.5"/>
<circle cx="64.00" cy="577.00" r="1.5" fill="#0e6a0e" stroke="#3aa02a" stroke-width="0.5"/>
<circle cx="67.10" cy="576.70" r="1.5" fill="#0e6a0e" stroke="#3aa02a" stroke-width="0.5"/>
<circle cx="61.40" cy="581.00" r="1.5" fill="#0e6a0e" stroke="#3aa02a" stroke-width="0.5"/>
<circle cx="64.00" cy="581.30" r="1.5" fill="#0e6a0e" stroke="#3aa02a" stroke-width="0.5"/>
<circle cx="64.00" cy="583.60" r="1.5" fill="#0e6a0e" stroke="#3aa02a" stroke-width="0.5"/>
<circle cx="67.10" cy="584.80" r="1.5" fill="#0e6a0e" stroke="#3aa02a" stroke-width="0.5"/>
<circle cx="64.00" cy="585.90" r="1.5" fill="#0e6a0e" stroke="#3aa02a" stroke-width="0.5"/>
<circle cx="64.00" cy="590.20" r="1.5" fill="#0e6a0e" stroke="#3aa02a" stroke-width="0.5"/>
<circle cx="64.00" cy="593.50" r="1.5" fill="#0e6a0e" stroke="#3aa02a" stroke-width="0.5"/>
<circle cx="61.40" cy="596.30" r="1.5" fill="#0e6a0e" stroke="#3aa02a" stroke-width="0.5"/>
<circle cx="64.00" cy="597.30" r="1.5" fill="#0e6a0e" stroke="#3aa02a" stroke-width="0.5"/>
<circle cx="64.00" cy="615.40" r="1.5" fill="#0e6a0e" stroke="#3aa02a" stroke-width="0.5"/>
<line x1="103.10" y1="585.60" x2="119.20" y2="585.60" stroke="#c0c0c0" stroke-width="1.3" />
<line x1="106.80" y1="569.00" x2="114.80" y2="569.00" stroke="#d0d0d0" stroke-width="0.8" />
<line x1="106.80" y1="600.00" x2="114.80" y2="600.00" stroke="#d0d0d0" stroke-width="0.8" />
<circle cx="110.80" cy="542.60" r="1.5" fill="#0e6a0e" stroke="#3aa02a" stroke-width="0.5"/>
<circle cx="110.80" cy="574.70" r="1.5" fill="#0e6a0e" stroke="#3aa02a" stroke-width="0.5"/>
<circle cx="108.00" cy="580.00" r="1.5" fill="#0e6a0e" stroke="#3aa02a" stroke-width="0.5"/>
<circle cx="110.80" cy="580.00" r="1.5" fill="#0e6a0e" stroke="#3aa02a" stroke-width="0.5"/>
<circle cx="110.80" cy="584.30" r="1.5" fill="#0e6a0e" stroke="#3aa02a" stroke-width="0.5"/>
<circle cx="110.80" cy="588.50" r="1.5" fill="#0e6a0e" stroke="#3aa02a" stroke-width="0.5"/>
<circle cx="110.80" cy="592.80" r="1.5" fill="#0e6a0e" stroke="#3aa02a" stroke-width="0.5"/>
<circle cx="113.90" cy="593.20" r="1.5" fill="#0e6a0e" stroke="#3aa02a" stroke-width="0.5"/>
<circle cx="110.80" cy="594.30" r="1.5" fill="#0e6a0e" stroke="#3aa02a" stroke-width="0.5"/>
<circle cx="108.00" cy="598.90" r="1.5" fill="#0e6a0e" stroke="#3aa02a" stroke-width="0.5"/>
<circle cx="110.80" cy="598.90" r="1.5" fill="#0e6a0e" stroke="#3aa02a" stroke-width="0.5"/>
<circle cx="110.80" cy="601.50" r="1.5" fill="#0e6a0e" stroke="#3aa02a" stroke-width="0.5"/>
<line x1="150.20" y1="582.60" x2="165.90" y2="582.60" stroke="#c0c0c0" stroke-width="1.3" />
<line x1="154.20" y1="571.70" x2="162.20" y2="571.70" stroke="#d0d0d0" stroke-width="0.8" />
<line x1="154.20" y1="594.40" x2="162.20" y2="594.40" stroke="#d0d0d0" stroke-width="0.8" />
<circle cx="158.20" cy="565.40" r="1.5" fill="#0e6a0e" stroke="#3aa02a" stroke-width="0.5"/>
<circle cx="158.20" cy="575.50" r="1.5" fill="#0e6a0e" stroke="#3aa02a" stroke-width="0.5"/>
<circle cx="160.70" cy="574.60" r="1.5" fill="#0e6a0e" stroke="#3aa02a" stroke-width="0.5"/>
<circle cx="158.20" cy="581.20" r="1.5" fill="#0e6a0e" stroke="#3aa02a" stroke-width="0.5"/>
<circle cx="158.20" cy="585.80" r="1.5" fill="#0e6a0e" stroke="#3aa02a" stroke-width="0.5"/>
<circle cx="155.40" cy="589.70" r="1.5" fill="#0e6a0e" stroke="#3aa02a" stroke-width="0.5"/>
<circle cx="158.20" cy="591.20" r="1.5" fill="#0e6a0e" stroke="#3aa02a" stroke-width="0.5"/>
<circle cx="158.20" cy="600.40" r="1.5" fill="#0e6a0e" stroke="#3aa02a" stroke-width="0.5"/>
<line x1="197.10" y1="556.20" x2="213.10" y2="556.20" stroke="#111" stroke-width="1.3" />
<line x1="201.10" y1="541.10" x2="209.10" y2="541.10" stroke="#d0d0d0" stroke-width="0.8" />
<line x1="201.10" y1="571.70" x2="209.10" y2="571.70" stroke="#d0d0d0" stroke-width="0.8" />
<circle cx="205.10" cy="540.50" r="1.5" fill="#0a3ed6" stroke="none" stroke-width="0.5"/>
<circle cx="208.00" cy="540.50" r="1.5" fill="#0a3ed6" stroke="none" stroke-width="0.5"/>
<circle cx="202.20" cy="548.70" r="1.5" fill="#0a3ed6" stroke="none" stroke-width="0.5"/>
<circle cx="205.10" cy="549.10" r="1.5" fill="#0e6a0e" stroke="#3aa02a" stroke-width="0.5"/>
<circle cx="208.00" cy="551.60" r="1.5" fill="#0a3ed6" stroke="none" stroke-width="0.5"/>
<circle cx="202.20" cy="556.80" r="1.5" fill="#0e6a0e" stroke="#3aa02a" stroke-width="0.5"/>
<circle cx="205.10" cy="556.80" r="1.5" fill="#0a3ed6" stroke="none" stroke-width="0.5"/>
<circle cx="205.10" cy="561.50" r="1.5" fill="#0a3ed6" stroke="none" stroke-width="0.5"/>
<circle cx="205.10" cy="564.80" r="1.5" fill="#f0a000" stroke="none" stroke-width="0.5"/>
<circle cx="205.10" cy="596.50" r="1.5" fill="#0e6a0e" stroke="#3aa02a" stroke-width="0.5"/>
<line x1="243.90" y1="562.20" x2="260.20" y2="562.20" stroke="#111" stroke-width="1.3" />
<line x1="248.10" y1="536.40" x2="256.10" y2="536.40" stroke="#d0d0d0" stroke-width="0.8" />
<line x1="248.10" y1="588.20" x2="256.10" y2="588.20" stroke="#d0d0d0" stroke-width="0.8" />
<circle cx="252.10" cy="520.40" r="1.5" fill="#0a3ed6" stroke="none" stroke-width="0.5"/>
<circle cx="252.10" cy="531.80" r="1.5" fill="#0a3ed6" stroke="none" stroke-width="0.5"/>
<circle cx="252.10" cy="537.00" r="1.5" fill="#102a7a" stroke="none" stroke-width="0.5"/>
<circle cx="252.10" cy="554.20" r="1.5" fill="#f0a000" stroke="none" stroke-width="0.5"/>
<circle cx="251.50" cy="560.90" r="1.5" fill="#0e6a0e" stroke="#3aa02a" stroke-width="0.5"/>
<circle cx="254.40" cy="560.90" r="1.5" fill="#0a3ed6" stroke="none" stroke-width="0.5"/>
<circle cx="252.10" cy="574.30" r="1.5" fill="#d02020" stroke="none" stroke-width="0.5"/>
<circle cx="249.30" cy="592.80" r="1.5" fill="#0e6a0e" stroke="#3aa02a" stroke-width="0.5"/>
<circle cx="252.10" cy="594.90" r="1.5" fill="#d02020" stroke="none" stroke-width="0.5"/>
<circle cx="252.10" cy="597.80" r="1.5" fill="#0e6a0e" stroke="#3aa02a" stroke-width="0.5"/>
<line x1="291.30" y1="579.40" x2="307.00" y2="579.40" stroke="#111" stroke-width="1.3" />
<line x1="295.00" y1="564.70" x2="303.00" y2="564.70" stroke="#d0d0d0" stroke-width="0.8" />
<line x1="295.00" y1="596.00" x2="303.00" y2="596.00" stroke="#d0d0d0" stroke-width="0.8" />
<circle cx="299.00" cy="550.80" r="1.5" fill="#0e6a0e" stroke="#3aa02a" stroke-width="0.5"/>
<circle cx="299.00" cy="566.20" r="1.5" fill="#0e6a0e" stroke="#3aa02a" stroke-width="0.5"/>
<circle cx="301.30" cy="568.00" r="1.5" fill="#0e6a0e" stroke="#3aa02a" stroke-width="0.5"/>
<circle cx="296.10" cy="571.00" r="1.5" fill="#0e6a0e" stroke="#3aa02a" stroke-width="0.5"/>
<circle cx="299.00" cy="571.40" r="1.5" fill="#0e6a0e" stroke="#3aa02a" stroke-width="0.5"/>
<circle cx="299.00" cy="580.40" r="1.5" fill="#0e6a0e" stroke="#3aa02a" stroke-width="0.5"/>
<circle cx="296.10" cy="593.80" r="1.5" fill="#0e6a0e" stroke="#3aa02a" stroke-width="0.5"/>
<circle cx="299.00" cy="593.80" r="1.5" fill="#0e6a0e" stroke="#3aa02a" stroke-width="0.5"/>
<circle cx="301.80" cy="592.10" r="1.5" fill="#0e6a0e" stroke="#3aa02a" stroke-width="0.5"/>
<circle cx="299.00" cy="595.30" r="1.5" fill="#0e6a0e" stroke="#3aa02a" stroke-width="0.5"/>
<circle cx="299.00" cy="599.10" r="1.5" fill="#0e6a0e" stroke="#3aa02a" stroke-width="0.5"/>
<text x="60.40" y="625.80" font-size="9.4" fill="#000" font-weight="bold" text-anchor="end" dominant-baseline="central" font-family='"Liberation Sans", sans-serif' textLength="49.40" lengthAdjust="spacingAndGlyphs" transform="rotate(-44 60.40 625.80)" >Asymptomatic</text>
<text x="110.40" y="622.50" font-size="9.4" fill="#000" font-weight="bold" text-anchor="end" dominant-baseline="central" font-family='"Liberation Sans", sans-serif' textLength="14.80" lengthAdjust="spacingAndGlyphs" transform="rotate(-44 110.40 622.50)" >Mild</text>
<text x="155.80" y="622.30" font-size="9.4" fill="#000" font-weight="bold" text-anchor="end" dominant-baseline="central" font-family='"Liberation Sans", sans-serif' textLength="35.10" lengthAdjust="spacingAndGlyphs" transform="rotate(-44 155.80 622.30)" >Moderate</text>
<text x="197.00" y="623.30" font-size="9.4" fill="#000" font-weight="bold" text-anchor="end" dominant-baseline="central" font-family='"Liberation Sans", sans-serif' textLength="53.20" lengthAdjust="spacingAndGlyphs" transform="rotate(-44 197.00 623.30)" >Severe/ Critical,</text>
<text x="205.20" y="628.80" font-size="9.4" fill="#000" font-weight="bold" text-anchor="end" dominant-baseline="central" font-family='"Liberation Sans", sans-serif' textLength="53.70" lengthAdjust="spacingAndGlyphs" transform="rotate(-44 205.20 628.80)" >No co-morbidity</text>
<text x="248.10" y="623.20" font-size="9.4" fill="#000" font-weight="bold" text-anchor="end" dominant-baseline="central" font-family='"Liberation Sans", sans-serif' textLength="56.70" lengthAdjust="spacingAndGlyphs" transform="rotate(-44 248.10 623.20)" >Severe/ Critical.</text>
<text x="260.70" y="625.10" font-size="9.4" fill="#000" font-weight="bold" text-anchor="end" dominant-baseline="central" font-family='"Liberation Sans", sans-serif' textLength="63.50" lengthAdjust="spacingAndGlyphs" transform="rotate(-44 260.70 625.10)" >with co-morbidity</text>
<text x="295.30" y="620.80" font-size="9.4" fill="#000" font-weight="bold" text-anchor="end" dominant-baseline="central" font-family='"Liberation Sans", sans-serif' textLength="81.30" lengthAdjust="spacingAndGlyphs" transform="rotate(-44 295.30 620.80)" >Non-Covid-19 common</text>
<text x="283.50" y="646.50" font-size="9.4" fill="#000" font-weight="bold" text-anchor="end" dominant-baseline="central" font-family='"Liberation Sans", sans-serif' textLength="52.60" lengthAdjust="spacingAndGlyphs" transform="rotate(-44 283.50 646.50)" >cold symptom)</text>
<circle cx="323.60" cy="530.90" r="4.0" fill="#92d050" stroke="#5b7391" stroke-width="1.1"/>
<circle cx="323.60" cy="546.90" r="4.0" fill="#ffc000" stroke="#5b7391" stroke-width="1.1"/>
<circle cx="323.60" cy="569.70" r="4.0" fill="#0070c0" stroke="#5b7391" stroke-width="1.1"/>
<circle cx="323.60" cy="584.40" r="4.0" fill="#a0522d" stroke="#5b7391" stroke-width="1.1"/>
<text x="334.80" y="531.40" font-size="10.2" fill="#000" font-weight="bold" text-anchor="start" dominant-baseline="central" font-family='"Liberation Sans", sans-serif' textLength="27.30" lengthAdjust="spacingAndGlyphs" >Survive</text>
<text x="334.80" y="547.30" font-size="10.2" fill="#000" font-weight="bold" text-anchor="start" dominant-baseline="central" font-family='"Liberation Sans", sans-serif' textLength="45.50" lengthAdjust="spacingAndGlyphs" >Survive with</text>
<text x="334.80" y="558.20" font-size="10.2" fill="#000" font-weight="bold" text-anchor="start" dominant-baseline="central" font-family='"Liberation Sans", sans-serif' textLength="67.40" lengthAdjust="spacingAndGlyphs" >Ventilator support</text>
<text x="336.10" y="569.70" font-size="10.2" fill="#000" font-weight="bold" text-anchor="start" dominant-baseline="central" font-family='"Liberation Sans", sans-serif' textLength="22.00" lengthAdjust="spacingAndGlyphs" >Death</text>
<text x="334.80" y="584.40" font-size="10.2" fill="#000" font-weight="bold" text-anchor="start" dominant-baseline="central" font-family='"Liberation Sans", sans-serif' textLength="41.50" lengthAdjust="spacingAndGlyphs" >Death+CKD</text>
<line x1="0.00" y1="212.75" x2="523.00" y2="212.75" stroke="#000" stroke-width="2" />
<line x1="2.00" y1="511.50" x2="395.00" y2="511.50" stroke="#000" stroke-width="1.8" />
</svg></body></html>
